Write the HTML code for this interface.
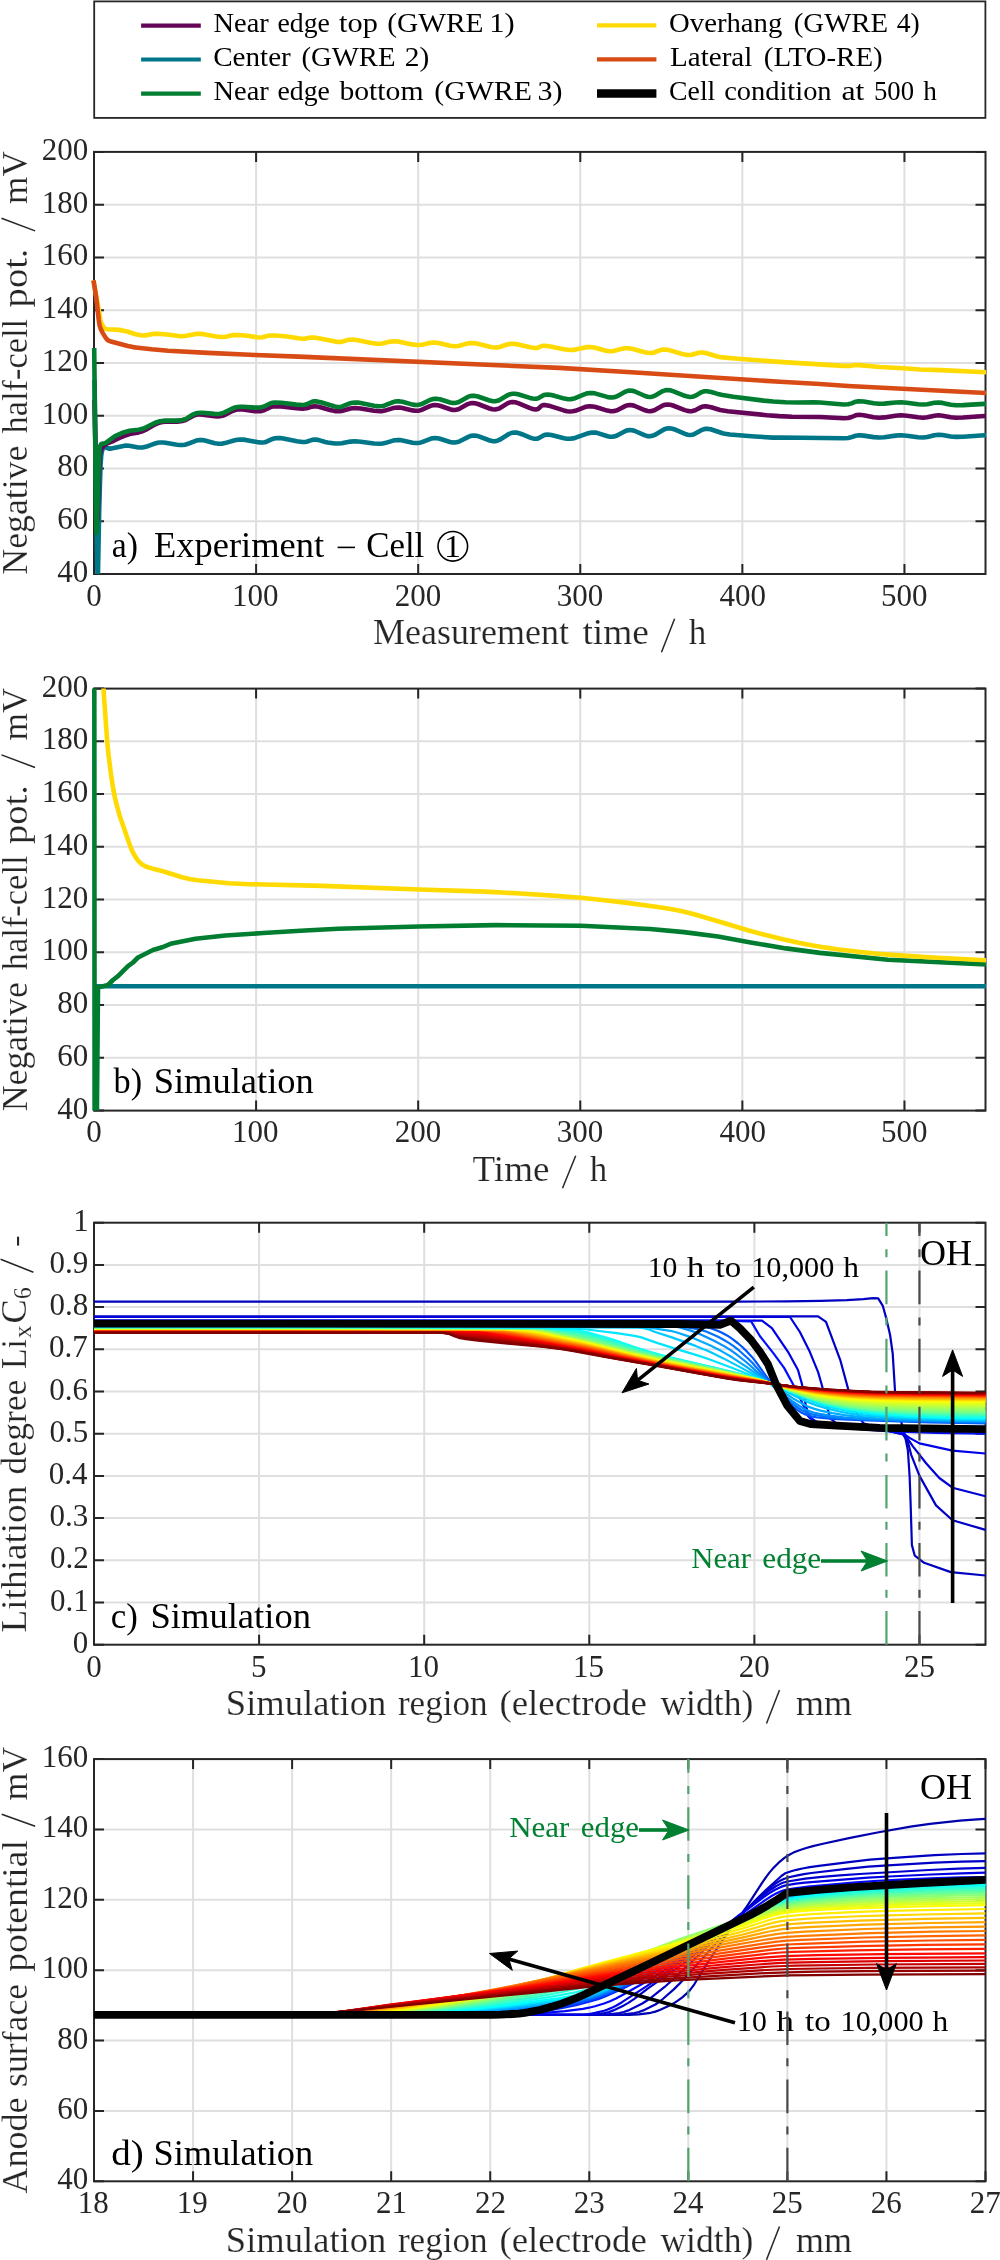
<!DOCTYPE html><html><head><meta charset="utf-8"><style>html,body{margin:0;padding:0;background:#fff;} svg{display:block;will-change:transform} text{font-family:"Liberation Serif",serif;} text[fill="#262626"]{stroke:#fff;stroke-width:0.2px;}</style></head><body>
<svg width="1000" height="2260" viewBox="0 0 1000 2260">
<rect width="1000" height="2260" fill="#fff"/>
<rect x="94.2" y="1.4" width="891.2" height="116.5" fill="#fff" stroke="#262626" stroke-width="1.8"/>
<line x1="141.1" y1="25.6" x2="200.8" y2="25.6" stroke="#650558" stroke-width="4.2"/>
<line x1="141.1" y1="59.5" x2="200.8" y2="59.5" stroke="#007789" stroke-width="4.2"/>
<line x1="141.1" y1="93.6" x2="200.8" y2="93.6" stroke="#007D30" stroke-width="4.2"/>
<line x1="597" y1="25.4" x2="656.4" y2="25.4" stroke="#FFDA00" stroke-width="4.2"/>
<line x1="597" y1="59.4" x2="656.4" y2="59.4" stroke="#D84B14" stroke-width="4.2"/>
<line x1="597" y1="93.4" x2="656.4" y2="93.4" stroke="#000" stroke-width="8.5"/>
<text transform="translate(213.52,32.20) scale(1.0783,1)" font-size="26.4" fill="#000" >Near</text>
<text transform="translate(277.49,32.20) scale(1.0518,1)" font-size="26.4" fill="#000" >edge</text>
<text transform="translate(339.10,32.20) scale(1.1479,1)" font-size="26.4" fill="#000" >top</text>
<text transform="translate(387.15,32.20) scale(1.1140,1)" font-size="26.4" fill="#000" >(GWRE</text>
<text transform="translate(489.32,32.20) scale(1.1593,1)" font-size="26.4" fill="#000" >1)</text>
<text transform="translate(213.13,66.10) scale(1.1042,1)" font-size="26.4" fill="#000" >Center</text>
<text transform="translate(301.38,66.10) scale(1.0879,1)" font-size="26.4" fill="#000" >(GWRE</text>
<text transform="translate(404.75,66.10) scale(1.1148,1)" font-size="26.4" fill="#000" >2)</text>
<text transform="translate(213.52,100.20) scale(1.0783,1)" font-size="26.4" fill="#000" >Near</text>
<text transform="translate(277.49,100.20) scale(1.0518,1)" font-size="26.4" fill="#000" >edge</text>
<text transform="translate(339.40,100.20) scale(1.1239,1)" font-size="26.4" fill="#000" >bottom</text>
<text transform="translate(434.33,100.20) scale(1.1283,1)" font-size="26.4" fill="#000" >(GWRE</text>
<text transform="translate(537.57,100.20) scale(1.1376,1)" font-size="26.4" fill="#000" >3)</text>
<text transform="translate(669.05,32.20) scale(1.0888,1)" font-size="26.4" fill="#000" >Overhang</text>
<text transform="translate(793.78,32.20) scale(1.0914,1)" font-size="26.4" fill="#000" >(GWRE</text>
<text transform="translate(896.65,32.20) scale(1.0478,1)" font-size="26.4" fill="#000" >4)</text>
<text transform="translate(670.00,66.10) scale(1.1027,1)" font-size="26.4" fill="#000" >Lateral</text>
<text transform="translate(763.77,66.10) scale(1.0964,1)" font-size="26.4" fill="#000" >(LTO-RE)</text>
<text transform="translate(669.09,100.20) scale(1.0502,1)" font-size="26.4" fill="#000" >Cell</text>
<text transform="translate(724.13,100.20) scale(1.0779,1)" font-size="26.4" fill="#000" >condition</text>
<text transform="translate(841.39,100.20) scale(1.2044,1)" font-size="26.4" fill="#000" >at</text>
<text transform="translate(873.97,100.20) scale(1.0110,1)" font-size="26.4" fill="#000" >500</text>
<text transform="translate(923.23,100.20) scale(1.0313,1)" font-size="26.4" fill="#000" >h</text>
<clipPath id="ca"><rect x="91.0" y="151.9" width="895.0" height="422.1"/></clipPath>
<line x1="256.09" y1="151.9" x2="256.09" y2="574.0" stroke="#DFDFDF" stroke-width="2"/>
<line x1="418.18" y1="151.9" x2="418.18" y2="574.0" stroke="#DFDFDF" stroke-width="2"/>
<line x1="580.27" y1="151.9" x2="580.27" y2="574.0" stroke="#DFDFDF" stroke-width="2"/>
<line x1="742.36" y1="151.9" x2="742.36" y2="574.0" stroke="#DFDFDF" stroke-width="2"/>
<line x1="904.45" y1="151.9" x2="904.45" y2="574.0" stroke="#DFDFDF" stroke-width="2"/>
<line x1="94.0" y1="521.24" x2="985.5" y2="521.24" stroke="#DFDFDF" stroke-width="2"/>
<line x1="94.0" y1="468.48" x2="985.5" y2="468.48" stroke="#DFDFDF" stroke-width="2"/>
<line x1="94.0" y1="415.71" x2="985.5" y2="415.71" stroke="#DFDFDF" stroke-width="2"/>
<line x1="94.0" y1="362.95" x2="985.5" y2="362.95" stroke="#DFDFDF" stroke-width="2"/>
<line x1="94.0" y1="310.19" x2="985.5" y2="310.19" stroke="#DFDFDF" stroke-width="2"/>
<line x1="94.0" y1="257.42" x2="985.5" y2="257.42" stroke="#DFDFDF" stroke-width="2"/>
<line x1="94.0" y1="204.66" x2="985.5" y2="204.66" stroke="#DFDFDF" stroke-width="2"/>
<path d="M94.00,574.0 v-10 M94.00,151.9 v10 M256.09,574.0 v-10 M256.09,151.9 v10 M418.18,574.0 v-10 M418.18,151.9 v10 M580.27,574.0 v-10 M580.27,151.9 v10 M742.36,574.0 v-10 M742.36,151.9 v10 M904.45,574.0 v-10 M904.45,151.9 v10 M94.0,574.00 h10 M985.5,574.00 h-10 M94.0,521.24 h10 M985.5,521.24 h-10 M94.0,468.48 h10 M985.5,468.48 h-10 M94.0,415.71 h10 M985.5,415.71 h-10 M94.0,362.95 h10 M985.5,362.95 h-10 M94.0,310.19 h10 M985.5,310.19 h-10 M94.0,257.42 h10 M985.5,257.42 h-10 M94.0,204.66 h10 M985.5,204.66 h-10 M94.0,151.90 h10 M985.5,151.90 h-10" stroke="#262626" stroke-width="2" fill="none"/>
<rect x="94.0" y="151.9" width="891.5" height="422.1" fill="none" stroke="#262626" stroke-width="2"/>
<g clip-path="url(#ca)">
<path d="M94.5,380.0 97.0,555.7 97.6,580.0 97.8,578.4 98.0,571.9 99.2,509.7 100.5,465.6 101.2,456.0 101.7,452.4 102.4,449.8 103.2,448.2 104.2,447.5 105.2,447.3 108.0,448.3 109.1,448.2 109.0,448.7 110.0,448.8 126.0,445.5 129.2,445.8 138.4,447.5 142.5,447.5 146.6,446.6 155.2,443.4 157.6,442.8 160.0,442.5 162.6,442.5 165.4,442.8 177.1,444.7 179.9,445.0 182.5,445.0 184.9,444.7 187.2,444.1 195.6,440.8 197.7,440.3 200.0,440.0 202.4,440.1 204.8,440.5 214.9,443.2 217.5,443.6 220.0,443.8 222.5,443.6 224.9,443.1 234.8,440.2 237.4,439.7 240.0,439.5 242.7,439.6 245.6,439.9 257.3,442.1 260.0,442.4 262.5,442.5 264.7,442.2 266.5,441.7 273.2,438.7 275.2,438.2 277.5,438.0 280.2,438.1 283.3,438.6 296.9,441.3 302.5,442.0 304.7,442.0 306.5,441.7 312.2,439.9 315.0,439.5 318.1,439.9 324.4,441.8 327.5,442.5 335.1,443.5 338.3,443.5 341.7,443.3 350.5,441.6 355.0,441.2 360.7,441.7 374.0,443.5 380.0,443.8 382.5,443.5 384.8,443.1 393.1,440.6 395.2,440.2 397.5,440.0 399.9,440.1 402.4,440.5 412.6,442.7 415.1,443.0 417.5,443.0 419.8,442.7 422.0,442.1 430.5,438.8 432.7,438.2 435.0,438.0 437.4,438.2 439.9,438.7 450.0,442.0 452.5,442.4 455.0,442.5 457.4,442.1 459.7,441.3 468.9,436.6 471.3,435.8 473.8,435.5 476.3,435.7 478.9,436.4 489.8,440.5 492.4,441.1 495.0,441.2 497.4,440.7 499.8,439.7 508.9,434.0 511.3,433.0 513.8,432.5 516.3,432.6 519.1,433.3 521.9,434.2 530.2,437.6 532.7,438.4 535.0,438.8 536.9,438.7 538.5,438.2 543.9,435.2 545.5,434.7 547.5,434.5 549.8,434.7 552.4,435.2 564.1,438.2 567.1,438.7 570.0,438.8 572.8,438.4 575.7,437.7 587.1,433.6 589.8,432.9 592.5,432.5 595.1,432.6 597.7,433.1 607.7,436.2 610.1,436.7 612.5,436.8 614.8,436.3 617.0,435.5 625.5,431.0 627.7,430.3 630.0,430.0 632.4,430.3 634.9,431.0 645.0,435.4 647.5,436.1 650.0,436.2 652.4,435.8 654.7,434.9 663.9,429.5 666.3,428.6 668.8,428.2 671.3,428.5 674.0,429.2 685.0,433.9 687.6,434.7 690.0,435.0 692.3,434.8 694.4,434.1 702.1,429.8 704.1,429.1 706.2,428.8 708.5,428.9 710.7,429.3 722.6,433.2 725.0,433.8 729.8,434.5 754.7,436.5 772.9,437.6 780.0,437.5 843.5,438.3 848.2,438.0 850.0,437.6 855.7,435.7 859.2,435.3 863.6,435.6 873.7,437.1 879.0,437.5 884.3,437.2 895.4,435.6 901.0,435.3 906.7,435.7 918.0,437.2 923.0,437.5 927.3,437.0 934.5,435.2 938.4,434.7 942.4,435.0 950.8,436.5 956.0,436.9 963.0,436.7 984.6,435.3 987.0,435.3" fill="none" stroke="#007789" stroke-width="4.6" stroke-linejoin="round" stroke-linecap="butt" />
<path d="M94.5,400.0 96.2,487.5 96.9,513.3 97.3,519.6 97.5,520.0 97.8,513.2 98.8,475.5 99.6,456.5 100.2,452.1 100.8,450.2 101.7,448.3 102.9,446.6 104.4,445.2 107.9,443.1 113.7,440.8 121.5,437.0 126.1,435.2 129.5,434.1 138.6,432.4 142.5,431.2 146.6,429.3 155.2,424.3 157.6,423.3 160.0,422.5 162.6,422.0 165.4,421.7 177.3,421.6 182.5,421.0 184.7,420.4 186.6,419.5 193.4,415.7 195.3,415.0 197.5,414.5 200.0,414.4 202.7,414.6 214.6,416.2 217.4,416.4 220.0,416.2 222.4,415.8 224.6,415.0 232.9,410.8 235.1,410.0 237.5,409.5 240.1,409.4 242.9,409.5 254.8,411.1 257.5,411.3 260.0,411.2 262.1,410.9 264.0,410.3 270.5,407.1 272.6,406.6 275.0,406.2 281.3,406.5 296.4,408.3 302.5,408.8 306.6,408.3 312.1,406.6 315.0,406.2 318.7,406.8 330.0,410.0 335.0,411.1 337.3,411.3 340.0,411.2 341.6,411.0 350.4,408.5 355.0,408.0 360.7,408.5 374.0,410.8 380.0,411.2 382.5,411.1 384.8,410.6 393.1,408.1 395.2,407.7 397.5,407.5 399.9,407.6 402.4,408.0 412.6,410.4 415.1,410.7 417.5,410.8 419.8,410.4 422.0,409.7 430.5,405.9 432.7,405.3 435.0,405.0 437.4,405.2 439.9,405.8 450.1,409.3 452.6,409.9 455.0,410.0 457.3,409.6 459.4,408.8 467.8,404.1 470.1,403.3 472.5,403.0 475.1,403.3 477.9,404.0 489.6,408.5 492.4,409.3 495.0,409.5 497.4,409.1 499.6,408.3 507.9,403.1 510.1,402.3 512.5,402.0 515.2,402.3 518.1,403.1 530.1,408.1 532.8,409.0 535.0,409.5 536.7,409.4 538.0,409.0 541.7,405.6 543.1,405.1 545.0,405.0 547.4,405.4 550.3,406.1 563.8,410.4 567.0,411.2 570.0,411.5 572.7,411.3 575.3,410.8 584.9,407.1 587.4,406.5 590.0,406.2 592.7,406.5 595.6,407.0 607.2,410.6 609.9,411.1 612.5,411.2 614.9,410.9 617.2,410.2 625.6,405.9 627.7,405.3 630.0,405.0 632.4,405.3 634.9,406.0 645.1,410.3 647.6,411.0 650.0,411.2 652.3,410.9 654.4,410.2 662.8,405.5 665.1,404.8 667.5,404.5 670.1,404.8 672.9,405.5 684.8,410.1 687.5,410.9 690.0,411.2 692.2,411.1 694.2,410.6 696.1,409.8 701.2,407.1 703.1,406.5 705.0,406.2 707.0,406.4 711.2,407.2 720.1,410.0 727.7,411.2 766.9,415.2 779.4,416.1 791.9,416.7 820.0,417.0 843.4,418.3 848.2,418.0 851.6,417.0 855.7,415.3 857.3,415.0 859.2,414.8 863.6,415.2 873.7,417.2 879.0,417.7 884.3,417.4 895.4,415.7 901.0,415.3 906.7,415.7 918.0,417.3 923.0,417.7 927.3,417.3 934.5,415.7 938.4,415.3 942.4,415.7 950.8,417.3 956.0,417.7 963.0,417.5 984.6,416.0 987.5,415.9 987.0,416.0" fill="none" stroke="#650558" stroke-width="4.6" stroke-linejoin="round" stroke-linecap="butt" />
<path d="M94.2,348.0 95.9,505.9 96.2,525.5 96.5,533.0 96.8,528.6 98.5,470.1 99.2,453.7 99.4,449.8 99.9,446.9 100.8,444.6 101.3,444.0 101.9,443.7 104.9,443.2 105.8,442.8 114.0,436.8 116.8,435.3 121.3,433.3 126.1,431.7 129.5,430.8 138.6,429.7 142.5,428.8 146.6,427.1 155.2,422.8 160.0,421.2 165.4,420.6 177.3,420.6 182.5,420.0 184.7,419.3 186.6,418.5 193.4,414.3 195.3,413.5 197.5,413.0 200.0,412.8 202.7,412.8 214.6,413.9 217.4,414.0 220.0,413.8 222.4,413.2 224.6,412.4 232.9,408.4 235.1,407.5 237.5,407.0 240.1,406.8 242.9,406.7 254.8,407.6 260.0,407.5 262.1,407.1 264.0,406.5 270.5,403.4 272.6,402.8 275.0,402.5 281.3,402.7 296.4,404.6 302.5,405.0 304.8,404.8 306.6,404.3 312.1,401.8 313.4,401.4 315.0,401.2 316.8,401.4 320.7,402.2 335.0,406.5 337.3,407.0 338.5,407.1 341.6,406.7 350.4,403.2 352.6,402.7 355.0,402.5 357.7,402.6 360.7,403.1 374.0,405.7 377.2,406.1 380.0,406.2 382.5,406.0 384.8,405.4 393.1,402.1 395.2,401.5 397.5,401.2 399.9,401.4 402.4,401.8 412.6,404.6 415.1,404.9 417.5,405.0 419.8,404.6 422.0,403.9 430.5,399.8 432.7,399.1 435.0,398.8 437.4,398.9 439.9,399.3 450.1,402.5 452.6,402.9 455.0,403.0 457.3,402.6 459.4,401.7 467.8,396.9 470.1,396.1 472.5,395.8 475.1,395.9 477.9,396.5 489.6,400.5 492.4,401.1 495.0,401.2 497.4,400.8 499.6,400.0 507.9,395.1 510.1,394.2 512.5,393.8 515.1,393.8 518.0,394.3 530.0,397.9 532.6,398.5 535.0,398.8 537.0,398.6 538.6,398.1 543.9,395.1 545.5,394.7 547.5,394.5 549.9,394.7 552.5,395.3 564.3,398.6 567.2,399.1 570.0,399.2 572.6,398.9 575.1,398.2 584.9,394.1 587.4,393.3 590.0,393.0 592.7,393.1 595.6,393.6 607.2,396.9 609.9,397.4 612.5,397.5 614.9,397.1 617.2,396.2 625.6,391.6 627.7,390.8 630.0,390.5 632.4,390.8 634.9,391.5 645.1,396.0 647.6,396.7 650.0,397.0 652.3,396.7 654.4,395.9 662.8,391.1 665.1,390.3 667.5,390.0 670.1,390.3 672.9,391.1 684.8,395.8 687.5,396.6 690.0,397.0 692.2,396.8 694.2,396.2 696.1,395.4 701.2,392.3 703.1,391.6 705.0,391.2 707.0,391.3 711.2,392.0 717.7,393.9 722.5,395.0 733.3,396.7 763.7,400.6 773.1,401.5 785.6,402.2 798.1,402.5 813.7,402.4 820.0,402.5 843.4,404.5 848.2,404.3 851.6,403.4 855.7,401.7 857.3,401.4 859.2,401.2 863.6,401.5 873.7,403.3 879.0,403.8 884.3,403.6 895.4,402.5 901.0,402.3 906.7,402.7 918.0,404.2 923.0,404.5 927.3,404.2 934.5,402.8 938.4,402.5 942.4,402.9 950.8,404.7 956.0,405.2 963.0,405.1 984.6,403.9 987.0,403.9" fill="none" stroke="#007D30" stroke-width="4.6" stroke-linejoin="round" stroke-linecap="butt" />
<path d="M93.5,280.3 100.5,320.0 101.0,322.0 101.9,324.4 104.3,328.0 105.4,328.8 107.0,329.3 118.8,329.9 122.2,330.4 128.3,331.8 129.3,332.3 135.6,334.2 140.9,335.3 144.1,335.5 147.2,335.1 153.4,333.9 158.1,333.7 169.3,334.7 178.7,336.1 182.5,336.2 186.3,335.8 195.7,333.9 199.2,333.8 202.4,334.1 216.2,336.5 220.9,337.0 225.6,336.7 233.4,335.1 238.1,335.0 247.5,335.8 257.1,337.3 260.0,337.5 262.6,337.2 268.5,335.6 271.6,335.5 275.1,335.5 285.0,336.2 298.6,338.3 302.5,338.8 305.4,338.6 311.1,337.5 314.2,337.6 319.8,338.5 335.4,341.6 338.5,342.0 341.5,341.9 348.5,339.8 352.5,339.5 358.0,340.2 371.5,343.0 377.5,343.8 380.0,343.7 382.3,343.5 390.4,341.6 395.0,341.2 400.4,341.9 412.1,344.4 417.5,345.0 422.2,344.7 430.6,342.8 435.0,342.5 439.9,343.2 450.1,345.7 455.0,346.2 457.3,346.1 459.4,345.7 467.8,343.4 470.1,343.1 472.5,343.0 475.1,343.2 477.9,343.8 489.6,346.8 492.4,347.3 495.0,347.5 497.4,347.4 499.6,347.0 507.9,344.3 510.1,343.9 512.5,343.8 518.1,344.4 530.1,347.2 535.0,348.0 536.7,348.0 538.0,347.7 541.7,346.0 543.1,345.8 545.0,345.8 550.3,346.5 563.8,349.3 570.0,350.0 572.7,349.9 575.4,349.6 585.1,347.4 587.5,347.1 590.0,347.0 592.5,347.2 595.1,347.7 605.2,350.5 607.6,351.0 610.0,351.2 612.3,351.2 614.4,350.8 622.8,348.6 625.1,348.3 627.5,348.2 630.1,348.5 632.9,349.1 644.8,352.2 647.5,352.7 650.0,353.0 652.2,352.9 654.1,352.5 660.9,349.9 662.8,349.6 665.0,349.5 667.5,349.8 670.3,350.4 682.2,354.0 687.5,355.0 689.7,355.0 691.7,354.8 698.8,352.8 700.6,352.5 702.5,352.5 706.5,353.2 717.4,356.5 722.8,357.4 732.0,358.3 779.4,361.9 843.5,365.9 849.5,365.9 855.2,365.0 859.3,365.1 880.0,367.0 903.0,368.2 920.0,369.5 940.9,370.1 987.0,372.3" fill="none" stroke="#FFDA00" stroke-width="4.6" stroke-linejoin="round" stroke-linecap="butt" />
<path d="M93.5,280.3 96.2,297.4 98.7,319.6 99.6,325.3 100.5,328.3 102.2,332.1 105.9,338.1 107.5,340.0 108.7,340.7 110.9,341.5 127.8,346.0 133.1,347.1 137.9,347.7 151.7,349.3 168.1,350.7 207.7,352.9 255.0,355.0 298.5,356.6 559.2,367.9 631.2,372.2 780.0,381.8 820.0,384.0 848.1,386.0 987.0,393.0" fill="none" stroke="#D84B14" stroke-width="4.6" stroke-linejoin="round" stroke-linecap="butt" />
</g>
<text transform="translate(86.25,605.80) scale(1.0000,1)" font-size="31" fill="#262627" >0</text>
<text transform="translate(232.07,605.80) scale(1.0000,1)" font-size="31" fill="#262627" >100</text>
<text transform="translate(394.85,605.80) scale(1.0000,1)" font-size="31" fill="#262627" >200</text>
<text transform="translate(556.87,605.80) scale(1.0000,1)" font-size="31" fill="#262627" >300</text>
<text transform="translate(719.38,605.80) scale(1.0000,1)" font-size="31" fill="#262627" >400</text>
<text transform="translate(880.89,605.80) scale(1.0000,1)" font-size="31" fill="#262627" >500</text>
<text transform="translate(57.16,582.00) scale(1.0000,1)" font-size="31" fill="#262627" >40</text>
<text transform="translate(57.16,529.24) scale(1.0000,1)" font-size="31" fill="#262627" >60</text>
<text transform="translate(57.16,476.48) scale(1.0000,1)" font-size="31" fill="#262627" >80</text>
<text transform="translate(41.66,423.71) scale(1.0000,1)" font-size="31" fill="#262627" >100</text>
<text transform="translate(41.66,370.95) scale(1.0000,1)" font-size="31" fill="#262627" >120</text>
<text transform="translate(41.66,318.19) scale(1.0000,1)" font-size="31" fill="#262627" >140</text>
<text transform="translate(41.66,265.42) scale(1.0000,1)" font-size="31" fill="#262627" >160</text>
<text transform="translate(41.66,212.66) scale(1.0000,1)" font-size="31" fill="#262627" >180</text>
<text transform="translate(41.66,159.90) scale(1.0000,1)" font-size="31" fill="#262627" >200</text>
<text transform="translate(373.01,644.20) scale(1.0058,1)" font-size="35.8" fill="#262626" >Measurement</text>
<text transform="translate(582.43,644.20) scale(1.0448,1)" font-size="35.8" fill="#262626" >time</text>
<text transform="translate(688.65,644.20) scale(0.9828,1)" font-size="35.8" fill="#262626" >h</text>
<line x1="661.5" y1="652.2" x2="674.6" y2="618.8" stroke="#262626" stroke-width="1.5"/>
<text transform="translate(27.20,574.68) rotate(-90) scale(0.9992,1)" font-size="35.8" fill="#262626">Negative</text>
<text transform="translate(27.20,433.54) rotate(-90) scale(0.9616,1)" font-size="35.8" fill="#262626">half-cell</text>
<text transform="translate(27.20,307.38) rotate(-90) scale(1.0768,1)" font-size="35.8" fill="#262626">pot.</text>
<text transform="translate(27.20,204.01) rotate(-90) scale(0.9860,1)" font-size="35.8" fill="#262626">mV</text>
<line x1="1.5" y1="218.3" x2="35.1" y2="230.9" stroke="#262626" stroke-width="1.5"/>
<text transform="translate(111.82,557.00) scale(0.9417,1)" font-size="35.8" fill="#000" >a)</text>
<text transform="translate(154.00,557.00) scale(1.0190,1)" font-size="35.8" fill="#000" >Experiment</text>
<line x1="337.6" y1="547.4" x2="355" y2="547.4" stroke="#000" stroke-width="1.6"/>
<text transform="translate(366.20,557.00) scale(0.9746,1)" font-size="35.8" fill="#000" >Cell</text>
<circle cx="452.8" cy="546.3" r="14.8" fill="none" stroke="#000" stroke-width="1.6"/>
<text transform="translate(444.02,557.00) scale(1.0981,1)" font-size="31" fill="#000" >1</text>
<clipPath id="cb"><rect x="91.0" y="688.6" width="895.0" height="421.9999999999999"/></clipPath>
<line x1="256.09" y1="688.6" x2="256.09" y2="1110.6" stroke="#DFDFDF" stroke-width="2"/>
<line x1="418.18" y1="688.6" x2="418.18" y2="1110.6" stroke="#DFDFDF" stroke-width="2"/>
<line x1="580.27" y1="688.6" x2="580.27" y2="1110.6" stroke="#DFDFDF" stroke-width="2"/>
<line x1="742.36" y1="688.6" x2="742.36" y2="1110.6" stroke="#DFDFDF" stroke-width="2"/>
<line x1="904.45" y1="688.6" x2="904.45" y2="1110.6" stroke="#DFDFDF" stroke-width="2"/>
<line x1="94.0" y1="1057.85" x2="985.5" y2="1057.85" stroke="#DFDFDF" stroke-width="2"/>
<line x1="94.0" y1="1005.10" x2="985.5" y2="1005.10" stroke="#DFDFDF" stroke-width="2"/>
<line x1="94.0" y1="952.35" x2="985.5" y2="952.35" stroke="#DFDFDF" stroke-width="2"/>
<line x1="94.0" y1="899.60" x2="985.5" y2="899.60" stroke="#DFDFDF" stroke-width="2"/>
<line x1="94.0" y1="846.85" x2="985.5" y2="846.85" stroke="#DFDFDF" stroke-width="2"/>
<line x1="94.0" y1="794.10" x2="985.5" y2="794.10" stroke="#DFDFDF" stroke-width="2"/>
<line x1="94.0" y1="741.35" x2="985.5" y2="741.35" stroke="#DFDFDF" stroke-width="2"/>
<path d="M94.00,1110.6 v-10 M94.00,688.6 v10 M256.09,1110.6 v-10 M256.09,688.6 v10 M418.18,1110.6 v-10 M418.18,688.6 v10 M580.27,1110.6 v-10 M580.27,688.6 v10 M742.36,1110.6 v-10 M742.36,688.6 v10 M904.45,1110.6 v-10 M904.45,688.6 v10 M94.0,1110.60 h10 M985.5,1110.60 h-10 M94.0,1057.85 h10 M985.5,1057.85 h-10 M94.0,1005.10 h10 M985.5,1005.10 h-10 M94.0,952.35 h10 M985.5,952.35 h-10 M94.0,899.60 h10 M985.5,899.60 h-10 M94.0,846.85 h10 M985.5,846.85 h-10 M94.0,794.10 h10 M985.5,794.10 h-10 M94.0,741.35 h10 M985.5,741.35 h-10 M94.0,688.60 h10 M985.5,688.60 h-10" stroke="#262626" stroke-width="2" fill="none"/>
<rect x="94.0" y="688.6" width="891.5" height="421.9999999999999" fill="none" stroke="#262626" stroke-width="2"/>
<g clip-path="url(#cb)">
<path d="M94.0,986.3 988.0,986.3" fill="none" stroke="#007789" stroke-width="4.6" stroke-linejoin="round" stroke-linecap="butt" />
<path d="M94.3,650.0 94.6,1125.0 96.8,1125.0 98.0,987.5 108.0,985.0 113.0,980.0 118.0,976.2 128.0,966.2 133.0,962.5 138.0,957.5 153.0,950.0 163.0,947.0 170.5,943.8 195.5,938.8 225.5,935.5 263.0,933.0 300.5,930.8 338.0,928.8 419.1,926.5 495.0,925.1 580.8,925.8 650.0,929.0 684.0,932.1 718.0,936.5 752.0,942.7 786.0,948.4 820.0,952.9 888.0,959.7 988.0,964.5" fill="none" stroke="#007D30" stroke-width="4.6" stroke-linejoin="round" stroke-linecap="butt" />
<path d="M102.8,660.0 103.2,680.9 103.7,692.3 107.2,741.4 108.5,754.6 111.0,774.3 113.0,787.5 114.8,797.0 116.6,804.7 119.7,815.7 129.1,843.1 131.9,850.4 135.1,856.3 137.2,859.6 138.4,861.1 141.3,863.8 143.0,865.0 145.0,866.1 147.2,867.0 152.1,868.4 163.0,871.2 182.0,877.2 190.7,879.3 197.7,880.3 228.9,883.2 249.3,884.2 322.6,885.9 419.1,889.5 485.1,891.6 516.1,893.3 549.4,895.4 580.8,897.8 600.1,899.7 627.4,902.9 655.9,906.7 669.2,908.7 680.0,910.8 688.2,912.7 696.8,915.0 722.2,922.5 747.8,930.2 764.8,934.8 781.8,938.9 798.8,942.7 811.5,945.2 824.2,947.4 837.0,949.2 858.2,951.7 875.2,953.5 892.1,954.9 928.9,957.3 988.0,960.4" fill="none" stroke="#FFDA00" stroke-width="4.6" stroke-linejoin="round" stroke-linecap="butt" />
</g>
<text transform="translate(86.25,1142.40) scale(1.0000,1)" font-size="31" fill="#262627" >0</text>
<text transform="translate(232.07,1142.40) scale(1.0000,1)" font-size="31" fill="#262627" >100</text>
<text transform="translate(394.85,1142.40) scale(1.0000,1)" font-size="31" fill="#262627" >200</text>
<text transform="translate(556.87,1142.40) scale(1.0000,1)" font-size="31" fill="#262627" >300</text>
<text transform="translate(719.38,1142.40) scale(1.0000,1)" font-size="31" fill="#262627" >400</text>
<text transform="translate(880.89,1142.40) scale(1.0000,1)" font-size="31" fill="#262627" >500</text>
<text transform="translate(57.16,1118.60) scale(1.0000,1)" font-size="31" fill="#262627" >40</text>
<text transform="translate(57.16,1065.85) scale(1.0000,1)" font-size="31" fill="#262627" >60</text>
<text transform="translate(57.16,1013.10) scale(1.0000,1)" font-size="31" fill="#262627" >80</text>
<text transform="translate(41.66,960.35) scale(1.0000,1)" font-size="31" fill="#262627" >100</text>
<text transform="translate(41.66,907.60) scale(1.0000,1)" font-size="31" fill="#262627" >120</text>
<text transform="translate(41.66,854.85) scale(1.0000,1)" font-size="31" fill="#262627" >140</text>
<text transform="translate(41.66,802.10) scale(1.0000,1)" font-size="31" fill="#262627" >160</text>
<text transform="translate(41.66,749.35) scale(1.0000,1)" font-size="31" fill="#262627" >180</text>
<text transform="translate(41.66,696.60) scale(1.0000,1)" font-size="31" fill="#262627" >200</text>
<text transform="translate(472.55,1180.80) scale(1.0346,1)" font-size="35.8" fill="#262626" >Time</text>
<text transform="translate(589.65,1180.80) scale(0.9769,1)" font-size="35.8" fill="#262626" >h</text>
<line x1="562.5" y1="1188.2" x2="575.7" y2="1155.7" stroke="#262626" stroke-width="1.5"/>
<text transform="translate(27.20,1111.28) rotate(-90) scale(0.9992,1)" font-size="35.8" fill="#262626">Negative</text>
<text transform="translate(27.20,970.14) rotate(-90) scale(0.9616,1)" font-size="35.8" fill="#262626">half-cell</text>
<text transform="translate(27.20,843.98) rotate(-90) scale(1.0768,1)" font-size="35.8" fill="#262626">pot.</text>
<text transform="translate(27.20,740.61) rotate(-90) scale(0.9860,1)" font-size="35.8" fill="#262626">mV</text>
<line x1="1.5" y1="754.9000000000001" x2="35.1" y2="767.5" stroke="#262626" stroke-width="1.5"/>
<text transform="translate(113.60,1092.90) scale(0.9582,1)" font-size="35.8" fill="#000" >b)</text>
<text transform="translate(153.64,1092.90) scale(1.0200,1)" font-size="35.8" fill="#000" >Simulation</text>
<clipPath id="cc"><rect x="91.0" y="1222.7" width="895.0" height="422.0"/></clipPath>
<line x1="259.09" y1="1222.7" x2="259.09" y2="1644.7" stroke="#DFDFDF" stroke-width="2"/>
<line x1="424.19" y1="1222.7" x2="424.19" y2="1644.7" stroke="#DFDFDF" stroke-width="2"/>
<line x1="589.28" y1="1222.7" x2="589.28" y2="1644.7" stroke="#DFDFDF" stroke-width="2"/>
<line x1="754.37" y1="1222.7" x2="754.37" y2="1644.7" stroke="#DFDFDF" stroke-width="2"/>
<line x1="919.46" y1="1222.7" x2="919.46" y2="1644.7" stroke="#DFDFDF" stroke-width="2"/>
<line x1="94.0" y1="1602.50" x2="985.5" y2="1602.50" stroke="#DFDFDF" stroke-width="2"/>
<line x1="94.0" y1="1560.30" x2="985.5" y2="1560.30" stroke="#DFDFDF" stroke-width="2"/>
<line x1="94.0" y1="1518.10" x2="985.5" y2="1518.10" stroke="#DFDFDF" stroke-width="2"/>
<line x1="94.0" y1="1475.90" x2="985.5" y2="1475.90" stroke="#DFDFDF" stroke-width="2"/>
<line x1="94.0" y1="1433.70" x2="985.5" y2="1433.70" stroke="#DFDFDF" stroke-width="2"/>
<line x1="94.0" y1="1391.50" x2="985.5" y2="1391.50" stroke="#DFDFDF" stroke-width="2"/>
<line x1="94.0" y1="1349.30" x2="985.5" y2="1349.30" stroke="#DFDFDF" stroke-width="2"/>
<line x1="94.0" y1="1307.10" x2="985.5" y2="1307.10" stroke="#DFDFDF" stroke-width="2"/>
<line x1="94.0" y1="1264.90" x2="985.5" y2="1264.90" stroke="#DFDFDF" stroke-width="2"/>
<path d="M94.00,1644.7 v-10 M94.00,1222.7 v10 M259.09,1644.7 v-10 M259.09,1222.7 v10 M424.19,1644.7 v-10 M424.19,1222.7 v10 M589.28,1644.7 v-10 M589.28,1222.7 v10 M754.37,1644.7 v-10 M754.37,1222.7 v10 M919.46,1644.7 v-10 M919.46,1222.7 v10 M94.0,1644.70 h10 M985.5,1644.70 h-10 M94.0,1602.50 h10 M985.5,1602.50 h-10 M94.0,1560.30 h10 M985.5,1560.30 h-10 M94.0,1518.10 h10 M985.5,1518.10 h-10 M94.0,1475.90 h10 M985.5,1475.90 h-10 M94.0,1433.70 h10 M985.5,1433.70 h-10 M94.0,1391.50 h10 M985.5,1391.50 h-10 M94.0,1349.30 h10 M985.5,1349.30 h-10 M94.0,1307.10 h10 M985.5,1307.10 h-10 M94.0,1264.90 h10 M985.5,1264.90 h-10 M94.0,1222.70 h10 M985.5,1222.70 h-10" stroke="#262626" stroke-width="2" fill="none"/>
<rect x="94.0" y="1222.7" width="891.5" height="422.0" fill="none" stroke="#262626" stroke-width="2"/>
<g clip-path="url(#cc)">
<path d="M94.0,1301.6 737.9,1301.6 787.4,1301.4 820.4,1300.8 846.8,1300.1 863.3,1299.1 873.2,1298.2 878.2,1298.4 882.8,1305.8 886.4,1318.9 890.1,1335.0 892.7,1353.5 895.0,1390.7 899.7,1416.8 904.6,1433.7 907.9,1450.6 909.6,1475.9 910.5,1500.0 911.9,1545.1 914.8,1555.7 924.1,1562.8 950.8,1572.1 985.5,1575.5" fill="none" stroke="#0000C0" stroke-width="2.2" stroke-linejoin="round" stroke-linecap="butt" />
<path d="M94.0,1316.4 818.1,1316.4 826.0,1321.9 840.2,1359.8 853.4,1408.4 863.3,1423.2 886.4,1430.3 903.0,1434.5 907.9,1442.1 911.2,1454.8 919.5,1475.9 936.0,1505.4 952.5,1520.2 985.5,1529.9" fill="none" stroke="#0000C8" stroke-width="2.2" stroke-linejoin="round" stroke-linecap="butt" />
<path d="M94.0,1317.0 790.0,1317.0 799.9,1332.0 809.8,1351.8 818.1,1372.1 822.1,1386.0 830.0,1418.1 840.2,1426.5 886.4,1430.7 903.0,1434.1 907.9,1439.2 912.9,1446.4 926.1,1463.2 939.3,1478.0 952.5,1487.7 985.5,1496.2" fill="none" stroke="#0000D8" stroke-width="2.2" stroke-linejoin="round" stroke-linecap="butt" />
<path d="M94.0,1320.6 762.0,1320.6 771.9,1328.2 788.0,1351.8 798.0,1370.0 801.9,1383.9 805.9,1405.8 809.8,1418.1 820.4,1424.4 886.4,1430.3 903.0,1433.3 909.6,1437.9 919.5,1443.4 952.5,1450.6 985.5,1453.5" fill="none" stroke="#0000E8" stroke-width="2.2" stroke-linejoin="round" stroke-linecap="butt" />
<path d="M94.0,1320.6 721.4,1320.6 751.1,1321.4 760.0,1336.2 773.9,1353.9 784.1,1367.9 794.0,1386.0 801.9,1402.1 807.9,1416.0 820.4,1424.4 853.4,1428.6 886.4,1431.2 936.0,1432.9 985.5,1433.7" fill="none" stroke="#0010FF" stroke-width="2.2" stroke-linejoin="round" stroke-linecap="butt" />
<path d="M94.0,1325.4 424.2,1325.4 673.4,1325.7 685.9,1325.9 704.4,1326.8 710.5,1328.1 716.3,1330.3 722.0,1332.7 727.5,1335.7 732.6,1339.2 737.6,1343.0 742.3,1347.0 746.8,1351.4 751.0,1355.9 755.0,1360.6 773.2,1385.8 777.0,1390.6 781.1,1395.3 785.4,1399.8 790.0,1404.1 794.8,1408.0 799.8,1411.7 805.4,1414.4 811.3,1416.3 817.4,1417.5 829.8,1418.6 842.3,1419.4 860.9,1420.2 929.4,1422.3 960.6,1423.0 985.5,1423.3" fill="none" stroke="#0057FF" stroke-width="2.2" stroke-linejoin="round" stroke-linecap="butt" />
<path d="M94.0,1325.7 627.1,1326.0 676.6,1326.1 682.8,1326.7 694.9,1328.7 700.9,1329.9 706.7,1331.8 718.1,1336.7 723.5,1339.7 728.8,1342.9 733.9,1346.4 738.8,1350.2 748.0,1358.5 752.3,1362.8 764.5,1376.7 772.8,1385.7 786.1,1398.5 790.9,1402.5 800.9,1409.7 806.5,1412.5 812.3,1414.4 818.4,1415.7 830.7,1417.3 843.0,1418.4 861.6,1419.5 929.7,1421.7 985.5,1422.7" fill="none" stroke="#0073FF" stroke-width="2.2" stroke-linejoin="round" stroke-linecap="butt" />
<path d="M94.0,1326.0 445.5,1326.1 673.6,1326.5 679.7,1327.5 691.5,1330.9 697.3,1333.0 702.9,1335.5 714.1,1340.8 724.9,1346.6 730.2,1349.9 735.2,1353.4 744.9,1361.0 749.6,1365.0 763.1,1377.6 767.8,1381.6 786.9,1397.2 791.8,1400.9 802.1,1407.7 807.5,1410.5 813.4,1412.5 819.4,1413.9 831.5,1415.9 843.8,1417.4 862.2,1418.8 880.7,1419.6 905.4,1420.4 948.5,1421.4 985.5,1422.0" fill="none" stroke="#0090FF" stroke-width="2.2" stroke-linejoin="round" stroke-linecap="butt" />
<path d="M94.0,1326.6 492.9,1326.8 640.2,1327.0 646.4,1327.2 670.2,1330.8 676.2,1332.2 687.8,1336.1 693.6,1338.2 710.5,1345.5 721.4,1351.1 732.0,1357.3 747.2,1367.4 762.0,1378.1 767.1,1381.5 792.6,1398.2 803.3,1404.2 808.8,1406.9 814.6,1408.9 820.5,1410.6 832.5,1413.2 844.5,1415.2 856.7,1416.6 875.1,1418.0 893.5,1418.9 918.0,1419.7 954.8,1420.6 985.5,1421.0" fill="none" stroke="#00ACFF" stroke-width="2.2" stroke-linejoin="round" stroke-linecap="butt" />
<path d="M94.0,1327.2 564.4,1327.5 637.7,1327.6 643.8,1328.1 649.6,1329.8 655.2,1332.0 672.6,1337.6 695.6,1345.9 706.9,1350.4 712.4,1353.0 723.4,1358.4 739.6,1366.9 766.3,1381.4 798.9,1398.0 810.1,1402.9 815.8,1405.1 827.5,1408.6 839.3,1411.5 851.3,1413.8 863.5,1415.3 881.7,1416.9 900.0,1417.9 924.4,1418.9 961.1,1419.8 985.5,1420.1" fill="none" stroke="#00C9FF" stroke-width="2.2" stroke-linejoin="round" stroke-linecap="butt" />
<path d="M94.0,1328.1 313.1,1328.2 483.4,1328.5 574.7,1328.8 580.8,1329.0 586.8,1329.5 616.7,1333.2 634.5,1335.9 640.5,1337.1 657.7,1343.1 675.0,1348.6 698.3,1355.6 709.8,1359.5 732.4,1368.0 755.0,1376.9 766.2,1381.6 799.6,1396.2 816.6,1403.0 822.3,1404.9 828.2,1406.6 840.0,1409.5 851.9,1411.9 864.0,1413.5 876.1,1414.8 894.3,1416.2 912.5,1417.3 930.7,1418.0 961.2,1418.8 985.5,1419.0" fill="none" stroke="#00E5FF" stroke-width="2.2" stroke-linejoin="round" stroke-linecap="butt" />
<path d="M94.0,1329.0 275.9,1329.1 415.4,1329.5 567.1,1330.3 573.1,1330.3 579.2,1330.8 585.1,1331.8 591.0,1333.3 608.5,1338.3 614.3,1340.1 631.5,1346.1 648.8,1351.6 660.5,1354.9 672.3,1357.8 725.4,1370.2 737.2,1373.2 748.9,1376.4 760.5,1379.9 766.2,1381.9 817.1,1401.8 822.8,1403.6 828.7,1405.2 846.4,1409.2 858.4,1411.2 876.5,1413.4 894.6,1414.9 912.8,1416.2 937.0,1417.3 967.3,1417.9 985.5,1418.1" fill="none" stroke="#00FFFF" stroke-width="2.2" stroke-linejoin="round" stroke-linecap="butt" />
<path d="M94.0,1329.2 324.4,1329.3 500.2,1329.9 542.6,1330.2 572.9,1331.2 578.9,1331.7 584.9,1332.8 590.8,1334.3 608.3,1339.1 631.3,1346.8 648.7,1352.0 660.4,1355.3 672.1,1358.2 725.3,1370.4 748.8,1376.5 760.4,1379.9 766.1,1381.9 817.1,1401.5 822.8,1403.3 828.7,1404.8 846.5,1408.7 858.4,1410.7 870.5,1412.1 882.5,1413.3 906.7,1415.1 924.9,1416.1 937.0,1416.5 967.3,1417.1 985.5,1417.2" fill="none" stroke="#10FFEF" stroke-width="2.2" stroke-linejoin="round" stroke-linecap="butt" />
<path d="M94.0,1329.3 336.4,1329.5 524.3,1330.2 542.5,1330.3 572.6,1332.0 578.6,1332.7 584.6,1333.8 590.5,1335.2 608.0,1340.0 631.1,1347.4 642.7,1350.8 660.2,1355.6 672.0,1358.5 725.2,1370.6 748.7,1376.5 760.3,1379.9 766.1,1381.8 817.1,1401.2 822.8,1402.9 828.7,1404.4 840.6,1407.0 852.5,1409.3 864.5,1410.9 882.6,1412.7 900.7,1414.0 918.9,1415.0 931.0,1415.5 961.3,1416.1 985.5,1416.4" fill="none" stroke="#21FFDE" stroke-width="2.2" stroke-linejoin="round" stroke-linecap="butt" />
<path d="M94.0,1329.4 342.4,1329.6 536.3,1330.3 542.3,1330.4 548.4,1330.7 572.4,1332.8 578.4,1333.6 584.3,1334.8 590.2,1336.2 607.7,1340.9 636.7,1349.7 660.1,1356.0 725.1,1370.8 742.7,1375.1 754.4,1378.2 760.2,1379.9 771.7,1383.8 800.0,1394.6 817.0,1400.9 822.9,1402.6 828.7,1404.0 840.6,1406.6 852.5,1408.7 864.5,1410.3 882.6,1412.1 900.7,1413.3 931.0,1414.7 961.3,1415.3 985.5,1415.5" fill="none" stroke="#31FFCE" stroke-width="2.2" stroke-linejoin="round" stroke-linecap="butt" />
<path d="M94.0,1329.5 275.7,1329.6 415.0,1329.9 536.1,1330.4 542.2,1330.5 548.2,1330.9 572.1,1333.7 578.1,1334.6 584.0,1335.7 589.9,1337.1 607.5,1341.8 630.7,1348.7 654.1,1355.0 671.7,1359.2 724.9,1371.0 748.5,1376.7 760.2,1379.9 765.9,1381.7 777.3,1385.8 805.6,1396.5 817.0,1400.6 822.9,1402.2 828.7,1403.7 840.6,1406.1 852.5,1408.2 870.6,1410.4 882.6,1411.4 900.8,1412.6 931.0,1413.9 961.3,1414.4 985.5,1414.6" fill="none" stroke="#41FFBE" stroke-width="2.2" stroke-linejoin="round" stroke-linecap="butt" />
<path d="M94.0,1329.6 354.3,1329.8 542.0,1330.6 548.0,1331.1 559.9,1332.9 571.9,1334.5 577.8,1335.5 583.7,1336.7 595.5,1339.6 607.2,1342.7 630.5,1349.3 653.9,1355.4 671.6,1359.5 724.8,1371.1 748.4,1376.7 760.1,1379.8 771.6,1383.6 805.6,1396.4 817.0,1400.3 822.9,1401.9 828.7,1403.3 840.6,1405.7 852.5,1407.7 864.6,1409.1 876.6,1410.3 894.7,1411.5 912.9,1412.5 931.0,1413.1 961.3,1413.6 985.5,1413.8" fill="none" stroke="#52FFAD" stroke-width="2.2" stroke-linejoin="round" stroke-linecap="butt" />
<path d="M94.0,1329.7 354.2,1329.9 541.8,1330.6 547.8,1331.3 559.7,1333.5 571.6,1335.4 583.5,1337.7 595.2,1340.5 630.3,1350.0 653.7,1355.8 671.5,1359.8 724.7,1371.3 754.1,1378.3 760.0,1379.8 771.5,1383.5 788.6,1389.7 805.5,1396.2 817.0,1400.0 828.8,1402.9 840.6,1405.2 852.6,1407.1 864.6,1408.5 876.6,1409.7 894.8,1410.9 912.9,1411.7 931.0,1412.3 961.3,1412.7 985.5,1412.9" fill="none" stroke="#62FF9D" stroke-width="2.2" stroke-linejoin="round" stroke-linecap="butt" />
<path d="M94.0,1329.8 360.2,1330.0 541.7,1330.7 547.7,1331.5 559.5,1334.0 571.3,1336.2 583.2,1338.7 595.0,1341.4 630.1,1350.6 653.6,1356.3 724.6,1371.5 754.0,1378.3 759.9,1379.8 771.4,1383.4 788.5,1389.5 799.8,1393.9 811.2,1397.9 817.0,1399.7 822.9,1401.2 834.7,1403.7 846.6,1405.7 858.6,1407.3 876.7,1409.1 888.7,1409.9 912.9,1411.0 931.1,1411.5 985.5,1412.0" fill="none" stroke="#72FF8D" stroke-width="2.2" stroke-linejoin="round" stroke-linecap="butt" />
<path d="M94.0,1329.9 366.1,1330.1 487.1,1330.5 541.5,1330.9 547.5,1331.8 559.2,1334.6 588.8,1340.8 624.0,1349.8 653.4,1356.7 724.4,1371.7 753.9,1378.3 759.8,1379.8 771.4,1383.3 788.5,1389.3 799.7,1393.7 811.2,1397.6 817.0,1399.3 822.9,1400.8 834.7,1403.2 846.6,1405.2 858.6,1406.7 876.7,1408.4 888.8,1409.1 912.9,1410.1 931.1,1410.6 985.5,1411.1" fill="none" stroke="#83FF7C" stroke-width="2.2" stroke-linejoin="round" stroke-linecap="butt" />
<path d="M94.0,1330.0 402.3,1330.3 523.2,1330.8 541.3,1331.2 547.3,1332.2 559.1,1334.9 588.6,1341.2 623.8,1350.2 653.2,1357.0 724.2,1371.9 753.7,1378.4 765.4,1381.4 771.2,1383.3 788.3,1389.1 799.7,1393.3 811.2,1397.0 817.0,1398.6 822.9,1400.0 834.7,1402.3 846.7,1404.2 858.7,1405.6 876.7,1407.2 888.8,1407.9 913.0,1408.8 931.1,1409.3 985.5,1409.8" fill="none" stroke="#93FF6C" stroke-width="2.2" stroke-linejoin="round" stroke-linecap="butt" />
<path d="M94.0,1330.1 287.4,1330.2 432.4,1330.5 523.1,1330.9 535.1,1331.2 541.1,1331.6 547.1,1332.6 558.9,1335.3 588.4,1341.6 623.6,1350.6 653.0,1357.3 724.0,1372.0 753.5,1378.4 765.2,1381.4 771.0,1383.2 799.6,1392.8 811.1,1396.4 817.0,1397.9 828.8,1400.4 840.7,1402.3 852.7,1403.9 870.7,1405.6 882.8,1406.4 900.9,1407.2 925.1,1407.9 985.5,1408.5" fill="none" stroke="#A3FF5C" stroke-width="2.2" stroke-linejoin="round" stroke-linecap="butt" />
<path d="M94.0,1330.2 299.4,1330.3 462.5,1330.8 522.9,1331.0 528.9,1331.1 541.0,1332.0 546.9,1333.0 558.7,1335.7 588.2,1342.0 623.3,1350.9 652.8,1357.7 670.5,1361.4 723.8,1372.2 753.3,1378.5 765.0,1381.4 770.8,1383.1 805.3,1394.1 817.0,1397.2 828.8,1399.5 840.7,1401.4 852.7,1402.9 870.8,1404.5 882.8,1405.2 900.9,1405.9 925.1,1406.6 985.5,1407.2" fill="none" stroke="#B4FF4B" stroke-width="2.2" stroke-linejoin="round" stroke-linecap="butt" />
<path d="M94.0,1330.3 275.2,1330.4 414.0,1330.7 522.7,1331.1 528.8,1331.3 534.8,1331.7 540.8,1332.3 546.7,1333.4 558.5,1336.1 582.1,1341.1 593.9,1343.8 623.1,1351.3 658.5,1359.3 723.6,1372.4 753.1,1378.5 764.9,1381.4 799.5,1392.0 805.3,1393.6 817.0,1396.5 828.8,1398.7 840.8,1400.5 852.8,1401.9 870.8,1403.4 882.9,1404.1 925.1,1405.3 985.5,1405.9" fill="none" stroke="#C4FF3B" stroke-width="2.2" stroke-linejoin="round" stroke-linecap="butt" />
<path d="M94.0,1330.5 281.1,1330.5 432.0,1330.9 522.6,1331.3 528.6,1331.4 534.6,1331.9 540.6,1332.7 546.5,1333.8 558.3,1336.5 581.9,1341.4 593.7,1344.2 622.9,1351.7 652.3,1358.4 670.1,1362.1 723.4,1372.5 752.9,1378.6 764.7,1381.4 787.8,1388.3 805.2,1393.1 817.0,1395.8 828.9,1397.8 840.8,1399.5 852.8,1400.9 870.8,1402.2 882.9,1402.9 925.1,1404.0 985.5,1404.6" fill="none" stroke="#D5FF2A" stroke-width="2.2" stroke-linejoin="round" stroke-linecap="butt" />
<path d="M94.0,1330.6 365.5,1330.8 498.3,1331.3 522.4,1331.4 528.5,1331.6 534.5,1332.2 540.4,1333.0 581.7,1341.8 593.5,1344.5 622.7,1352.1 640.3,1356.1 658.0,1360.0 729.1,1373.9 758.6,1379.9 764.5,1381.3 781.9,1386.4 799.3,1391.1 811.1,1393.9 822.9,1396.1 834.8,1397.8 846.8,1399.3 858.8,1400.3 876.9,1401.5 895.0,1402.1 919.1,1402.6 985.5,1403.3" fill="none" stroke="#E5FF1A" stroke-width="2.2" stroke-linejoin="round" stroke-linecap="butt" />
<path d="M94.0,1330.7 371.5,1330.9 510.2,1331.4 522.3,1331.5 528.3,1331.7 534.3,1332.4 540.2,1333.4 557.9,1337.3 581.5,1342.2 593.3,1344.9 622.5,1352.5 640.1,1356.5 657.8,1360.3 728.9,1374.0 758.5,1379.9 764.3,1381.3 787.5,1387.8 799.3,1390.7 811.0,1393.2 822.9,1395.3 834.9,1397.0 846.9,1398.3 858.9,1399.3 876.9,1400.3 895.0,1400.9 919.2,1401.3 985.5,1402.0" fill="none" stroke="#F5FF0A" stroke-width="2.2" stroke-linejoin="round" stroke-linecap="butt" />
<path d="M94.0,1330.8 401.5,1331.1 504.1,1331.5 522.1,1331.7 528.2,1332.0 534.1,1332.8 540.1,1333.9 557.7,1337.8 581.4,1342.6 593.1,1345.3 622.3,1352.8 639.9,1356.8 657.6,1360.6 758.3,1380.0 764.2,1381.3 787.5,1387.7 805.1,1391.6 817.0,1393.8 834.9,1396.3 846.9,1397.6 858.9,1398.4 877.0,1399.4 913.1,1400.3 985.5,1401.0" fill="none" stroke="#FFF800" stroke-width="2.2" stroke-linejoin="round" stroke-linecap="butt" />
<path d="M94.0,1330.9 305.0,1331.0 467.8,1331.4 504.0,1331.6 522.0,1332.2 528.0,1332.6 534.0,1333.4 539.9,1334.4 557.6,1338.3 581.3,1343.1 593.0,1345.7 622.2,1353.1 651.7,1359.7 675.3,1364.4 758.2,1380.1 764.1,1381.4 787.4,1387.6 805.1,1391.4 817.0,1393.5 834.9,1395.9 846.9,1397.1 858.9,1398.0 877.0,1399.0 913.2,1399.8 985.5,1400.4" fill="none" stroke="#FFE800" stroke-width="2.2" stroke-linejoin="round" stroke-linecap="butt" />
<path d="M94.0,1331.0 311.0,1331.1 479.8,1331.5 503.9,1331.7 521.9,1332.6 527.9,1333.1 533.9,1333.9 575.2,1342.3 592.9,1346.1 622.2,1353.4 651.6,1360.0 675.2,1364.7 758.2,1380.2 764.1,1381.5 787.4,1387.4 805.1,1391.1 817.0,1393.2 834.9,1395.5 846.9,1396.7 858.9,1397.6 877.0,1398.5 913.2,1399.2 985.5,1399.9" fill="none" stroke="#FFD800" stroke-width="2.2" stroke-linejoin="round" stroke-linecap="butt" />
<path d="M94.0,1331.1 401.4,1331.4 497.8,1331.7 503.8,1331.8 509.9,1332.1 527.8,1333.7 539.7,1335.6 586.9,1345.2 598.7,1347.9 622.1,1353.7 657.4,1361.5 675.1,1365.0 758.1,1380.3 764.0,1381.6 787.4,1387.3 805.1,1390.9 817.0,1392.9 834.9,1395.1 846.9,1396.3 859.0,1397.1 877.0,1398.0 907.2,1398.6 985.5,1399.4" fill="none" stroke="#FFC700" stroke-width="2.2" stroke-linejoin="round" stroke-linecap="butt" />
<path d="M94.0,1331.2 419.4,1331.5 497.7,1331.8 503.8,1331.8 509.8,1332.3 527.7,1334.2 539.6,1336.2 586.8,1345.6 598.6,1348.3 622.0,1354.0 657.3,1361.9 681.0,1366.4 758.0,1380.4 763.9,1381.6 787.4,1387.2 805.1,1390.7 817.0,1392.6 835.0,1394.8 847.0,1395.9 859.0,1396.7 877.0,1397.5 907.2,1398.1 985.5,1398.8" fill="none" stroke="#FFB700" stroke-width="2.2" stroke-linejoin="round" stroke-linecap="butt" />
<path d="M94.0,1331.3 347.1,1331.5 503.7,1331.9 509.7,1332.4 527.6,1334.7 539.4,1336.8 586.7,1346.0 598.5,1348.7 633.7,1357.0 663.1,1363.3 734.2,1376.4 758.0,1380.5 763.9,1381.7 787.4,1387.1 805.1,1390.4 817.0,1392.3 835.0,1394.4 847.0,1395.5 859.0,1396.2 877.1,1397.1 907.2,1397.6 985.5,1398.3" fill="none" stroke="#FFA700" stroke-width="2.2" stroke-linejoin="round" stroke-linecap="butt" />
<path d="M94.0,1331.4 353.0,1331.6 503.6,1332.0 509.6,1332.6 533.4,1336.3 580.7,1345.3 598.4,1349.0 639.5,1358.7 663.0,1363.7 728.2,1375.6 757.9,1380.7 763.8,1381.8 781.4,1385.8 793.3,1388.1 805.1,1390.2 817.0,1392.0 835.0,1394.0 847.0,1395.1 859.0,1395.8 877.1,1396.6 901.2,1397.0 985.5,1397.7" fill="none" stroke="#FF9600" stroke-width="2.2" stroke-linejoin="round" stroke-linecap="butt" />
<path d="M94.0,1331.5 359.0,1331.7 497.5,1332.0 503.6,1332.1 509.5,1332.8 533.3,1336.9 586.5,1346.9 598.3,1349.4 645.3,1360.3 668.9,1365.1 734.1,1376.8 757.8,1380.8 763.8,1381.9 787.3,1386.9 811.1,1390.8 823.0,1392.4 841.0,1394.2 853.0,1395.0 871.1,1395.9 895.2,1396.5 985.5,1397.2" fill="none" stroke="#FF8600" stroke-width="2.2" stroke-linejoin="round" stroke-linecap="butt" />
<path d="M94.0,1331.6 431.2,1331.9 479.4,1332.0 503.5,1332.5 509.5,1333.2 533.2,1337.4 586.5,1347.3 598.2,1349.8 645.2,1360.5 668.8,1365.3 728.1,1376.0 763.7,1381.9 787.3,1386.8 811.1,1390.6 823.0,1392.0 841.0,1393.8 853.0,1394.6 871.1,1395.5 895.2,1396.0 985.5,1396.8" fill="none" stroke="#FF7600" stroke-width="2.2" stroke-linejoin="round" stroke-linecap="butt" />
<path d="M94.0,1331.7 310.8,1331.7 473.3,1332.0 485.4,1332.2 503.4,1333.0 509.4,1333.8 533.1,1338.0 586.4,1347.8 598.1,1350.3 621.6,1355.7 645.2,1360.8 668.8,1365.5 728.0,1376.2 763.7,1382.0 787.3,1386.7 811.1,1390.4 823.1,1391.8 841.0,1393.4 853.1,1394.3 877.1,1395.3 901.2,1395.7 985.5,1396.5" fill="none" stroke="#FF6500" stroke-width="2.2" stroke-linejoin="round" stroke-linecap="butt" />
<path d="M94.0,1331.7 310.7,1331.8 473.3,1332.1 485.3,1332.4 497.3,1333.1 503.3,1333.6 509.3,1334.4 533.0,1338.5 580.4,1347.2 592.2,1349.5 621.6,1356.0 645.1,1361.1 662.8,1364.6 680.6,1367.9 733.9,1377.4 763.7,1382.0 787.3,1386.6 811.1,1390.1 823.1,1391.5 841.1,1393.1 853.1,1393.9 877.1,1394.9 907.2,1395.4 985.5,1396.1" fill="none" stroke="#FF5500" stroke-width="2.2" stroke-linejoin="round" stroke-linecap="butt" />
<path d="M94.0,1331.8 419.1,1332.0 473.3,1332.2 485.3,1332.6 503.2,1334.1 509.2,1334.9 532.9,1339.0 586.2,1348.8 639.2,1360.1 674.6,1367.0 727.9,1376.5 763.6,1382.0 787.3,1386.5 811.1,1389.9 823.1,1391.2 841.1,1392.7 859.1,1393.8 877.2,1394.5 907.2,1395.1 985.5,1395.8" fill="none" stroke="#FF4500" stroke-width="2.2" stroke-linejoin="round" stroke-linecap="butt" />
<path d="M94.0,1331.8 437.1,1332.1 473.2,1332.2 479.2,1332.4 485.2,1332.8 497.2,1334.0 509.1,1335.5 532.8,1339.5 574.3,1347.0 592.0,1350.4 621.4,1356.8 650.9,1362.7 680.5,1368.3 722.0,1375.7 739.8,1378.6 763.6,1382.1 787.3,1386.3 811.1,1389.7 823.1,1390.9 841.1,1392.4 859.1,1393.4 877.2,1394.2 913.3,1394.8 985.5,1395.5" fill="none" stroke="#FF3400" stroke-width="2.2" stroke-linejoin="round" stroke-linecap="butt" />
<path d="M94.0,1331.9 352.8,1332.0 473.2,1332.3 479.2,1332.5 491.1,1333.6 503.0,1335.2 532.7,1340.1 586.0,1349.7 621.3,1357.1 639.0,1360.7 668.6,1366.3 698.2,1371.7 733.8,1377.9 757.6,1381.2 787.3,1386.2 805.2,1388.7 817.1,1390.1 835.1,1391.6 853.1,1392.7 877.2,1393.8 913.3,1394.5 985.5,1395.2" fill="none" stroke="#FF2400" stroke-width="2.2" stroke-linejoin="round" stroke-linecap="butt" />
<path d="M94.0,1331.9 358.8,1332.1 473.1,1332.3 479.1,1332.5 485.1,1333.1 491.1,1333.9 514.8,1337.6 538.6,1341.6 568.2,1346.9 591.8,1351.3 621.3,1357.5 639.0,1361.0 686.3,1369.8 721.9,1376.1 739.7,1378.9 763.6,1382.1 787.3,1386.1 805.2,1388.5 817.1,1389.8 835.1,1391.3 853.1,1392.4 877.2,1393.4 919.3,1394.2 985.5,1394.8" fill="none" stroke="#FF1400" stroke-width="2.2" stroke-linejoin="round" stroke-linecap="butt" />
<path d="M94.0,1332.0 364.8,1332.2 473.1,1332.4 479.1,1332.6 485.1,1333.3 491.0,1334.2 502.8,1336.3 532.5,1341.1 568.1,1347.4 591.7,1351.8 633.0,1360.1 692.2,1371.1 721.8,1376.3 739.7,1379.1 763.5,1382.2 781.3,1385.1 799.2,1387.6 817.1,1389.6 829.1,1390.5 847.2,1391.7 871.2,1392.8 913.3,1393.8 985.5,1394.5" fill="none" stroke="#FF0300" stroke-width="2.2" stroke-linejoin="round" stroke-linecap="butt" />
<path d="M94.0,1332.1 443.0,1332.4 478.9,1333.5 484.9,1334.1 490.9,1335.0 502.7,1337.1 538.4,1342.7 568.0,1347.7 591.7,1352.1 615.3,1357.0 633.0,1360.4 692.2,1371.2 721.8,1376.4 739.6,1379.2 763.5,1382.2 781.3,1385.1 799.2,1387.5 817.1,1389.4 829.1,1390.4 847.2,1391.5 871.2,1392.6 913.3,1393.6 985.5,1394.3" fill="none" stroke="#F20000" stroke-width="2.2" stroke-linejoin="round" stroke-linecap="butt" />
<path d="M94.0,1332.2 443.0,1332.5 448.9,1332.7 460.8,1333.7 478.8,1334.5 490.7,1336.0 532.3,1342.3 568.0,1348.0 585.7,1351.3 627.0,1359.5 698.1,1372.5 727.7,1377.6 739.6,1379.4 763.5,1382.3 781.3,1385.1 799.2,1387.5 817.1,1389.3 829.1,1390.3 847.2,1391.4 871.2,1392.5 913.3,1393.4 985.5,1394.1" fill="none" stroke="#E20000" stroke-width="2.2" stroke-linejoin="round" stroke-linecap="butt" />
<path d="M94.0,1332.3 436.9,1332.5 442.9,1332.5 448.9,1332.9 460.6,1334.5 478.6,1335.5 484.6,1336.2 532.2,1342.9 556.0,1346.4 579.7,1350.5 627.0,1359.7 721.7,1376.8 739.6,1379.5 763.4,1382.4 781.3,1385.1 799.2,1387.4 817.1,1389.2 829.1,1390.2 847.2,1391.2 871.2,1392.3 913.3,1393.2 985.5,1393.8" fill="none" stroke="#D10000" stroke-width="2.2" stroke-linejoin="round" stroke-linecap="butt" />
<path d="M94.0,1332.4 442.9,1332.6 448.9,1333.1 460.5,1335.2 478.5,1336.6 490.4,1337.9 538.1,1344.3 556.0,1346.8 573.8,1349.8 621.0,1358.8 698.0,1372.8 727.6,1377.9 739.5,1379.7 763.4,1382.5 787.2,1386.0 799.2,1387.4 817.1,1389.1 829.1,1390.0 853.2,1391.4 871.2,1392.2 907.3,1392.9 985.5,1393.6" fill="none" stroke="#C10000" stroke-width="2.2" stroke-linejoin="round" stroke-linecap="butt" />
<path d="M94.0,1332.5 442.9,1332.6 448.9,1333.2 460.4,1336.0 478.3,1337.6 490.3,1338.9 538.0,1344.8 561.8,1348.1 579.6,1351.2 621.0,1359.1 662.5,1366.4 698.0,1372.9 727.6,1378.1 739.5,1379.8 763.4,1382.6 793.2,1386.7 811.2,1388.5 829.1,1389.9 853.2,1391.3 871.2,1392.1 907.3,1392.7 985.5,1393.4" fill="none" stroke="#B10000" stroke-width="2.2" stroke-linejoin="round" stroke-linecap="butt" />
<path d="M94.0,1332.6 442.9,1332.7 448.9,1333.4 454.5,1335.2 460.3,1336.7 490.1,1339.9 532.0,1344.7 549.9,1346.8 561.8,1348.5 579.6,1351.5 615.0,1358.2 656.5,1365.5 697.9,1373.1 727.6,1378.2 739.5,1380.0 763.4,1382.7 793.2,1386.6 811.2,1388.4 829.1,1389.8 853.2,1391.2 871.2,1392.0 901.3,1392.5 985.5,1393.2" fill="none" stroke="#A00000" stroke-width="2.2" stroke-linejoin="round" stroke-linecap="butt" />
<path d="M94.0,1332.7 442.9,1332.8 448.8,1333.6 454.4,1335.7 460.1,1337.5 466.1,1338.3 537.8,1345.9 561.7,1348.8 573.6,1350.7 609.1,1357.4 656.5,1365.6 697.9,1373.2 727.5,1378.4 739.4,1380.1 763.4,1382.8 793.2,1386.6 811.2,1388.3 829.1,1389.7 853.2,1391.1 871.2,1391.8 895.3,1392.3 985.5,1393.0" fill="none" stroke="#900000" stroke-width="2.2" stroke-linejoin="round" stroke-linecap="butt" />
<path d="M94.0,1332.8 442.9,1332.8 448.8,1333.8 454.3,1336.2 460.0,1338.2 465.9,1339.2 477.9,1340.7 543.7,1347.0 561.7,1349.2 573.5,1351.1 609.0,1357.7 656.4,1365.8 697.9,1373.4 727.5,1378.6 739.4,1380.3 763.3,1382.9 793.2,1386.6 811.2,1388.2 829.1,1389.6 853.2,1390.9 871.2,1391.7 895.3,1392.1 985.5,1392.8" fill="none" stroke="#800000" stroke-width="2.2" stroke-linejoin="round" stroke-linecap="butt" />
<path d="M94.0,1323.6 680.1,1324.0 720.0,1324.8 730.9,1320.6 739.8,1328.2 751.1,1340.0 760.0,1351.8 767.9,1364.1 775.8,1383.9 787.4,1405.8 799.9,1421.0 810.5,1424.0 836.9,1425.7 879.8,1427.8 985.5,1429.1" fill="none" stroke="#000" stroke-width="7.8" stroke-linejoin="round" stroke-linecap="butt" />
</g>
<text transform="translate(86.25,1676.50) scale(1.0000,1)" font-size="31" fill="#262627" >0</text>
<text transform="translate(251.07,1676.50) scale(1.0000,1)" font-size="31" fill="#262627" >5</text>
<text transform="translate(407.91,1676.50) scale(1.0000,1)" font-size="31" fill="#262627" >10</text>
<text transform="translate(573.04,1676.50) scale(1.0000,1)" font-size="31" fill="#262627" >15</text>
<text transform="translate(738.79,1676.50) scale(1.0000,1)" font-size="31" fill="#262627" >20</text>
<text transform="translate(903.92,1676.50) scale(1.0000,1)" font-size="31" fill="#262627" >25</text>
<text transform="translate(72.66,1652.70) scale(1.0000,1)" font-size="31" fill="#262627" >0</text>
<text transform="translate(50.11,1610.50) scale(1.0000,1)" font-size="31" fill="#262627" >0.1</text>
<text transform="translate(49.95,1568.30) scale(1.0000,1)" font-size="31" fill="#262627" >0.2</text>
<text transform="translate(49.49,1526.10) scale(1.0000,1)" font-size="31" fill="#262627" >0.3</text>
<text transform="translate(48.71,1483.90) scale(1.0000,1)" font-size="31" fill="#262627" >0.4</text>
<text transform="translate(49.49,1441.70) scale(1.0000,1)" font-size="31" fill="#262627" >0.5</text>
<text transform="translate(49.18,1399.50) scale(1.0000,1)" font-size="31" fill="#262627" >0.6</text>
<text transform="translate(49.10,1357.30) scale(1.0000,1)" font-size="31" fill="#262627" >0.7</text>
<text transform="translate(49.41,1315.10) scale(1.0000,1)" font-size="31" fill="#262627" >0.8</text>
<text transform="translate(49.49,1272.90) scale(1.0000,1)" font-size="31" fill="#262627" >0.9</text>
<text transform="translate(73.36,1230.70) scale(1.0000,1)" font-size="31" fill="#262627" >1</text>
<text transform="translate(225.83,1715.20) scale(1.0213,1)" font-size="35.8" fill="#262626" >Simulation</text>
<text transform="translate(397.90,1715.20) scale(0.9821,1)" font-size="35.8" fill="#262626" >region</text>
<text transform="translate(499.43,1715.20) scale(1.0297,1)" font-size="35.8" fill="#262626" >(electrode</text>
<text transform="translate(660.40,1715.20) scale(0.9944,1)" font-size="35.8" fill="#262626" >width)</text>
<text transform="translate(795.98,1715.20) scale(1.0071,1)" font-size="35.8" fill="#262626" >mm</text>
<line x1="766.5" y1="1723.4" x2="779.5" y2="1690.0" stroke="#262626" stroke-width="1.5"/>
<text transform="translate(25.50,1632.52) rotate(-90) scale(1.0407,1)" font-size="35.8" fill="#262626">Lithiation</text>
<text transform="translate(25.50,1474.45) rotate(-90) scale(0.9946,1)" font-size="35.8" fill="#262626">degree</text>
<text transform="translate(25.50,1368.92) rotate(-90) scale(0.9383,1)" font-size="35.8" fill="#262626">Li</text>
<text transform="translate(25.50,1323.45) rotate(-90) scale(1.0149,1)" font-size="35.8" fill="#262626">C</text>
<text transform="translate(31.00,1338.19) rotate(-90) scale(1.0333,1)" font-size="25.0" fill="#262626">x</text>
<text transform="translate(31.20,1298.99) rotate(-90) scale(0.9357,1)" font-size="25.0" fill="#262626">6</text>
<line x1="0.6" y1="1259.2" x2="33.4" y2="1272.3" stroke="#262626" stroke-width="1.5"/>
<rect x="17" y="1236.7" width="2.1" height="8.9" fill="#262626"/>
<text transform="translate(110.69,1627.50) scale(0.9731,1)" font-size="35.8" fill="#000" >c)</text>
<text transform="translate(150.53,1627.50) scale(1.0213,1)" font-size="35.8" fill="#000" >Simulation</text>
<clipPath id="cd"><rect x="91.0" y="1759.1" width="895.0" height="422.2000000000003"/></clipPath>
<line x1="193.06" y1="1759.1" x2="193.06" y2="2181.3" stroke="#DFDFDF" stroke-width="2"/>
<line x1="292.11" y1="1759.1" x2="292.11" y2="2181.3" stroke="#DFDFDF" stroke-width="2"/>
<line x1="391.17" y1="1759.1" x2="391.17" y2="2181.3" stroke="#DFDFDF" stroke-width="2"/>
<line x1="490.22" y1="1759.1" x2="490.22" y2="2181.3" stroke="#DFDFDF" stroke-width="2"/>
<line x1="589.28" y1="1759.1" x2="589.28" y2="2181.3" stroke="#DFDFDF" stroke-width="2"/>
<line x1="688.33" y1="1759.1" x2="688.33" y2="2181.3" stroke="#DFDFDF" stroke-width="2"/>
<line x1="787.39" y1="1759.1" x2="787.39" y2="2181.3" stroke="#DFDFDF" stroke-width="2"/>
<line x1="886.44" y1="1759.1" x2="886.44" y2="2181.3" stroke="#DFDFDF" stroke-width="2"/>
<line x1="94.0" y1="2110.93" x2="985.5" y2="2110.93" stroke="#DFDFDF" stroke-width="2"/>
<line x1="94.0" y1="2040.57" x2="985.5" y2="2040.57" stroke="#DFDFDF" stroke-width="2"/>
<line x1="94.0" y1="1970.20" x2="985.5" y2="1970.20" stroke="#DFDFDF" stroke-width="2"/>
<line x1="94.0" y1="1899.83" x2="985.5" y2="1899.83" stroke="#DFDFDF" stroke-width="2"/>
<line x1="94.0" y1="1829.47" x2="985.5" y2="1829.47" stroke="#DFDFDF" stroke-width="2"/>
<path d="M94.00,2181.3 v-10 M94.00,1759.1 v10 M193.06,2181.3 v-10 M193.06,1759.1 v10 M292.11,2181.3 v-10 M292.11,1759.1 v10 M391.17,2181.3 v-10 M391.17,1759.1 v10 M490.22,2181.3 v-10 M490.22,1759.1 v10 M589.28,2181.3 v-10 M589.28,1759.1 v10 M688.33,2181.3 v-10 M688.33,1759.1 v10 M787.39,2181.3 v-10 M787.39,1759.1 v10 M886.44,2181.3 v-10 M886.44,1759.1 v10 M985.50,2181.3 v-10 M985.50,1759.1 v10 M94.0,2181.30 h10 M985.5,2181.30 h-10 M94.0,2110.93 h10 M985.5,2110.93 h-10 M94.0,2040.57 h10 M985.5,2040.57 h-10 M94.0,1970.20 h10 M985.5,1970.20 h-10 M94.0,1899.83 h10 M985.5,1899.83 h-10 M94.0,1829.47 h10 M985.5,1829.47 h-10 M94.0,1759.10 h10 M985.5,1759.10 h-10" stroke="#262626" stroke-width="2" fill="none"/>
<rect x="94.0" y="1759.1" width="891.5" height="422.2000000000003" fill="none" stroke="#262626" stroke-width="2"/>
<g clip-path="url(#cd)">
<path d="M94.0,2014.9 628.9,2014.9 638.8,2014.4 650.8,2012.8 655.3,2011.6 659.8,2010.0 668.5,2006.1 673.3,2003.6 677.8,2000.7 682.3,1997.3 686.8,1993.4 689.8,1990.4 694.3,1984.3 704.8,1967.0 721.4,1941.8 728.9,1930.9 746.9,1906.4 761.9,1883.2 766.4,1876.7 769.4,1872.6 772.4,1869.1 778.4,1862.9 784.4,1857.9 788.9,1855.0 793.4,1852.6 799.4,1850.2 805.4,1848.2 812.9,1846.1 821.9,1844.0 848.9,1838.1 877.4,1832.5 910.5,1826.7 930.0,1823.8 960.0,1820.7 973.5,1819.6 985.5,1818.9" fill="none" stroke="#0000B0" stroke-width="2.2" stroke-linejoin="round" stroke-linecap="butt" />
<path d="M94.0,2014.9 614.0,2014.9 623.8,2014.4 634.3,2013.1 638.8,2012.0 643.3,2010.4 649.3,2007.6 655.3,2004.5 658.3,2002.5 662.8,1999.0 673.5,1989.6 679.3,1983.9 685.3,1977.5 706.3,1954.2 731.9,1925.1 745.4,1910.5 757.4,1898.2 766.4,1889.5 781.4,1876.0 784.4,1873.8 785.9,1873.0 790.4,1871.5 796.4,1869.8 802.4,1868.5 809.9,1867.1 818.9,1865.8 848.9,1862.1 869.9,1859.7 893.9,1857.8 934.5,1855.2 961.5,1854.0 985.5,1853.4" fill="none" stroke="#0000C0" stroke-width="2.2" stroke-linejoin="round" stroke-linecap="butt" />
<path d="M94.0,2014.9 599.2,2014.9 608.8,2014.4 619.3,2013.1 623.8,2012.0 628.3,2010.4 634.3,2007.6 641.8,2003.8 646.3,2001.0 650.8,1997.8 664.3,1987.2 673.3,1979.2 692.8,1960.7 730.4,1924.1 737.9,1917.2 749.9,1906.6 764.9,1892.3 770.9,1887.1 775.4,1883.7 779.9,1880.8 784.4,1878.7 788.9,1877.3 796.4,1875.6 803.9,1874.1 811.4,1873.0 844.4,1869.1 868.4,1866.7 887.9,1865.3 934.5,1862.7 961.5,1861.6 985.5,1861.1" fill="none" stroke="#0000C8" stroke-width="2.2" stroke-linejoin="round" stroke-linecap="butt" />
<path d="M94.0,2014.9 584.8,2014.9 593.8,2014.4 604.3,2013.1 608.8,2012.1 613.3,2010.4 623.9,2005.4 628.3,2002.9 634.3,1998.8 648.7,1987.8 680.8,1965.3 689.8,1958.5 697.3,1952.3 706.3,1944.5 731.9,1921.7 739.4,1915.4 749.9,1907.0 766.4,1893.0 770.9,1889.5 775.4,1886.5 779.9,1884.1 782.9,1882.8 787.4,1881.5 805.4,1878.7 821.9,1876.8 839.9,1875.3 859.4,1874.0 928.5,1870.0 958.5,1868.7 985.5,1867.8" fill="none" stroke="#0000D0" stroke-width="2.2" stroke-linejoin="round" stroke-linecap="butt" />
<path d="M94.0,2014.9 580.0,2014.9 583.0,2014.8 589.0,2014.0 595.0,2012.9 604.0,2010.7 607.0,2009.8 613.0,2007.3 616.0,2005.8 622.0,2002.2 646.0,1986.7 655.0,1980.6 664.0,1974.2 691.0,1954.1 703.0,1944.5 727.0,1924.6 739.0,1915.2 748.0,1908.8 763.0,1897.6 769.0,1893.4 775.0,1889.7 781.0,1886.9 784.0,1885.9 787.0,1885.1 796.0,1883.7 805.0,1882.7 868.0,1877.7 889.0,1876.5 931.0,1874.5 961.0,1873.3 985.5,1872.7" fill="none" stroke="#0000E6" stroke-width="2.2" stroke-linejoin="round" stroke-linecap="butt" />
<path d="M94.0,2014.9 406.0,2014.9 496.0,2014.5 520.0,2013.9 547.0,2012.6 565.0,2011.1 583.0,2008.9 589.0,2007.7 595.0,2006.3 604.0,2003.5 610.0,2001.3 616.0,1998.5 622.0,1995.3 646.0,1981.7 664.0,1970.5 691.0,1952.5 703.0,1944.0 730.0,1924.4 751.0,1910.2 766.0,1899.6 772.0,1895.8 775.0,1894.1 781.0,1891.3 784.0,1890.3 787.0,1889.5 793.0,1888.5 808.0,1886.5 853.0,1882.6 874.0,1881.0 901.0,1879.6 937.0,1878.1 961.0,1877.4 985.5,1877.0" fill="none" stroke="#0006FF" stroke-width="2.2" stroke-linejoin="round" stroke-linecap="butt" />
<path d="M94.0,2014.9 397.0,2014.9 466.0,2014.4 493.0,2014.0 511.0,2013.4 538.0,2011.4 544.0,2010.8 553.0,2009.6 565.0,2007.5 577.0,2004.9 589.0,2001.8 598.0,1999.1 604.0,1996.9 613.0,1993.1 622.0,1988.9 640.0,1980.1 649.0,1975.5 661.0,1968.8 694.0,1949.2 730.0,1926.5 748.0,1915.5 769.0,1901.6 775.0,1898.2 778.0,1896.7 784.0,1894.4 787.0,1893.7 796.0,1892.0 811.0,1890.0 853.0,1886.1 874.0,1884.4 901.0,1883.1 937.0,1881.7 961.0,1881.1 985.5,1880.9" fill="none" stroke="#0026FF" stroke-width="2.2" stroke-linejoin="round" stroke-linecap="butt" />
<path d="M94.0,2014.9 352.0,2014.9 400.0,2014.7 433.0,2014.3 475.0,2013.5 502.0,2012.6 517.0,2011.7 532.0,2010.4 544.0,2009.3 553.0,2008.1 565.0,2006.0 577.0,2003.4 589.0,2000.5 598.0,1997.8 604.0,1995.6 613.0,1991.9 622.0,1987.7 640.0,1979.1 649.0,1974.5 661.0,1967.9 697.0,1947.0 730.0,1926.9 748.0,1916.1 766.0,1904.3 772.0,1900.7 778.0,1897.7 784.0,1895.4 787.0,1894.6 796.0,1892.9 811.0,1890.9 853.0,1886.8 874.0,1885.1 901.0,1883.7 937.0,1882.3 961.0,1881.7 985.5,1881.5" fill="none" stroke="#0046FF" stroke-width="2.2" stroke-linejoin="round" stroke-linecap="butt" />
<path d="M94.0,2014.9 346.0,2014.9 394.0,2014.5 418.0,2014.2 460.0,2013.2 499.0,2011.6 511.0,2010.8 526.0,2009.5 541.0,2008.0 553.0,2006.5 565.0,2004.5 577.0,2002.0 589.0,1999.2 598.0,1996.5 604.0,1994.4 613.0,1990.7 622.0,1986.6 640.0,1978.1 649.0,1973.6 661.0,1967.1 700.0,1944.9 745.0,1918.5 751.0,1914.8 766.0,1905.1 772.0,1901.6 778.0,1898.6 784.0,1896.3 787.0,1895.5 796.0,1893.8 811.0,1891.7 853.0,1887.5 874.0,1885.8 901.0,1884.4 937.0,1883.0 961.0,1882.3 985.5,1882.1" fill="none" stroke="#0066FF" stroke-width="2.2" stroke-linejoin="round" stroke-linecap="butt" />
<path d="M94.0,2014.9 346.0,2014.9 409.0,2014.1 454.0,2012.7 496.0,2010.7 508.0,2009.8 523.0,2008.4 541.0,2006.5 553.0,2004.9 565.0,2003.0 574.0,2001.2 583.0,1999.3 592.0,1997.1 598.0,1995.2 607.0,1991.9 616.0,1988.2 625.0,1984.1 646.0,1974.1 661.0,1966.3 700.0,1944.6 742.0,1920.8 748.0,1917.3 769.0,1904.1 775.0,1900.9 778.0,1899.5 784.0,1897.2 787.0,1896.4 796.0,1894.7 811.0,1892.6 853.0,1888.3 874.0,1886.4 898.0,1885.2 937.0,1883.6 961.0,1883.0 985.5,1882.7" fill="none" stroke="#0086FF" stroke-width="2.2" stroke-linejoin="round" stroke-linecap="butt" />
<path d="M94.0,2014.9 346.0,2014.9 403.0,2014.0 451.0,2012.3 493.0,2009.8 520.0,2007.4 541.0,2005.0 553.0,2003.4 565.0,2001.4 574.0,1999.8 583.0,1997.9 592.0,1995.7 598.0,1993.9 604.0,1991.8 613.0,1988.3 622.0,1984.3 643.0,1974.6 658.0,1967.0 742.0,1921.4 748.0,1917.9 766.0,1906.7 772.0,1903.3 778.0,1900.4 784.0,1898.1 787.0,1897.3 796.0,1895.6 811.0,1893.4 853.0,1889.0 874.0,1887.1 898.0,1885.8 937.0,1884.2 961.0,1883.6 985.5,1883.3" fill="none" stroke="#00A6FF" stroke-width="2.2" stroke-linejoin="round" stroke-linecap="butt" />
<path d="M94.0,2014.9 346.0,2014.9 367.0,2014.6 400.0,2013.9 421.0,2013.1 448.0,2011.9 469.0,2010.6 490.0,2009.0 505.0,2007.6 520.0,2006.0 556.0,2001.3 574.0,1998.4 583.0,1996.5 592.0,1994.4 598.0,1992.7 604.0,1990.6 613.0,1987.1 622.0,1983.2 643.0,1973.6 658.0,1966.2 685.0,1951.7 739.0,1923.6 748.0,1918.5 763.0,1909.2 772.0,1904.1 778.0,1901.3 784.0,1899.1 787.0,1898.3 796.0,1896.5 811.0,1894.3 853.0,1889.7 874.0,1887.8 898.0,1886.5 937.0,1884.9 961.0,1884.2 985.5,1884.0" fill="none" stroke="#00C6FF" stroke-width="2.2" stroke-linejoin="round" stroke-linecap="butt" />
<path d="M94.0,2014.9 346.0,2014.9 367.0,2014.6 400.0,2013.7 421.0,2012.8 448.0,2011.3 466.0,2010.0 487.0,2008.3 502.0,2006.8 517.0,2005.0 559.0,1999.3 577.0,1996.4 592.0,1993.1 598.0,1991.4 604.0,1989.3 613.0,1985.9 622.0,1982.0 643.0,1972.6 655.0,1966.8 685.0,1951.2 739.0,1924.2 748.0,1919.1 766.0,1908.2 772.0,1905.0 778.0,1902.2 784.0,1900.0 787.0,1899.2 796.0,1897.4 811.0,1895.1 853.0,1890.4 874.0,1888.5 898.0,1887.1 937.0,1885.5 961.0,1884.8 985.5,1884.6" fill="none" stroke="#00E5FF" stroke-width="2.2" stroke-linejoin="round" stroke-linecap="butt" />
<path d="M94.0,2014.9 346.0,2014.9 367.0,2014.5 397.0,2013.6 418.0,2012.7 442.0,2011.3 460.0,2010.0 478.0,2008.4 496.0,2006.5 511.0,2004.7 559.0,1998.1 577.0,1995.2 592.0,1992.1 598.0,1990.3 604.0,1988.3 610.0,1986.1 619.0,1982.4 640.0,1973.2 649.0,1969.0 688.0,1949.3 739.0,1924.6 748.0,1919.6 766.0,1908.9 772.0,1905.6 778.0,1902.9 781.0,1901.7 787.0,1899.9 799.0,1897.6 814.0,1895.4 856.0,1890.7 877.0,1888.8 904.0,1887.4 937.0,1886.0 961.0,1885.3 985.5,1885.1" fill="none" stroke="#00FFFF" stroke-width="2.2" stroke-linejoin="round" stroke-linecap="butt" />
<path d="M94.0,2014.9 331.0,2014.9 349.0,2014.8 364.0,2014.5 406.0,2012.9 445.0,2010.3 460.0,2009.0 478.0,2007.2 496.0,2005.1 511.0,2003.1 550.0,1996.9 574.0,1992.6 583.0,1990.6 592.0,1988.4 598.0,1986.7 607.0,1983.5 619.0,1978.8 646.0,1967.2 658.0,1961.5 688.0,1946.9 739.0,1923.6 748.0,1919.0 763.0,1910.7 772.0,1906.2 778.0,1903.6 781.0,1902.5 787.0,1900.9 799.0,1898.6 814.0,1896.5 853.0,1892.4 874.0,1890.6 901.0,1889.1 937.0,1887.6 961.0,1887.0 985.5,1886.7" fill="none" stroke="#17FFE8" stroke-width="2.2" stroke-linejoin="round" stroke-linecap="butt" />
<path d="M94.0,2014.9 325.0,2014.9 361.0,2014.5 400.0,2012.9 433.0,2010.6 448.0,2009.3 463.0,2007.8 496.0,2003.7 511.0,2001.4 526.0,1998.9 547.0,1995.0 562.0,1992.0 577.0,1988.7 589.0,1985.6 595.0,1983.9 604.0,1980.9 619.0,1975.1 646.0,1963.9 688.0,1944.5 742.0,1921.3 769.0,1908.0 778.0,1904.3 784.0,1902.5 796.0,1900.2 814.0,1897.7 847.0,1894.3 871.0,1892.3 889.0,1891.2 934.0,1889.4 961.0,1888.6 985.5,1888.3" fill="none" stroke="#2EFFD1" stroke-width="2.2" stroke-linejoin="round" stroke-linecap="butt" />
<path d="M94.0,2014.9 325.0,2014.9 358.0,2014.5 394.0,2012.9 421.0,2011.0 451.0,2008.2 481.0,2004.5 496.0,2002.3 511.0,1999.8 526.0,1997.0 544.0,1993.3 559.0,1989.9 574.0,1986.2 589.0,1982.1 598.0,1979.3 607.0,1976.1 616.0,1972.7 643.0,1961.8 685.0,1943.3 703.0,1935.9 742.0,1920.4 769.0,1908.4 778.0,1905.1 784.0,1903.4 796.0,1901.2 814.0,1898.8 844.0,1895.9 871.0,1893.8 892.0,1892.7 934.0,1891.0 961.0,1890.3 985.5,1890.0" fill="none" stroke="#44FFBB" stroke-width="2.2" stroke-linejoin="round" stroke-linecap="butt" />
<path d="M94.0,2014.9 325.0,2014.9 355.0,2014.5 379.0,2013.5 409.0,2011.6 442.0,2008.5 466.0,2005.5 484.0,2002.9 499.0,2000.4 514.0,1997.6 532.0,1993.8 547.0,1990.3 559.0,1987.2 574.0,1983.0 592.0,1977.5 610.0,1971.3 640.0,1959.7 652.0,1954.8 679.0,1943.3 697.0,1936.2 742.0,1919.6 769.0,1908.8 778.0,1905.8 784.0,1904.3 796.0,1902.2 814.0,1900.0 841.0,1897.5 868.0,1895.5 886.0,1894.5 931.0,1892.8 961.0,1891.9 985.5,1891.6" fill="none" stroke="#5BFFA4" stroke-width="2.2" stroke-linejoin="round" stroke-linecap="butt" />
<path d="M94.0,2014.9 322.0,2014.9 355.0,2014.5 376.0,2013.5 406.0,2011.5 430.0,2009.1 454.0,2006.2 469.0,2004.1 484.0,2001.6 499.0,1998.9 511.0,1996.5 526.0,1993.2 541.0,1989.5 550.0,1987.1 562.0,1983.6 592.0,1973.9 610.0,1967.6 643.0,1955.1 682.0,1939.5 700.0,1932.9 742.0,1918.7 766.0,1910.2 775.0,1907.4 784.0,1905.2 799.0,1902.8 817.0,1900.8 841.0,1898.8 865.0,1897.1 886.0,1896.1 931.0,1894.4 961.0,1893.6 985.5,1893.2" fill="none" stroke="#72FF8D" stroke-width="2.2" stroke-linejoin="round" stroke-linecap="butt" />
<path d="M94.0,2014.9 322.0,2014.9 352.0,2014.5 370.0,2013.7 400.0,2011.6 421.0,2009.5 448.0,2006.2 475.0,2002.1 490.0,1999.4 502.0,1997.0 526.0,1991.5 541.0,1987.6 550.0,1985.0 571.0,1978.3 607.0,1966.1 643.0,1953.1 679.0,1939.4 694.0,1934.2 715.0,1927.3 742.0,1918.8 766.0,1910.9 775.0,1908.3 781.0,1906.8 793.0,1904.8 811.0,1902.7 832.0,1900.9 859.0,1899.1 883.0,1897.9 928.0,1896.3 958.0,1895.5 985.5,1895.0" fill="none" stroke="#89FF76" stroke-width="2.2" stroke-linejoin="round" stroke-linecap="butt" />
<path d="M94.0,2014.9 307.0,2014.9 343.0,2014.6 364.0,2013.8 394.0,2011.7 415.0,2009.6 439.0,2006.7 451.0,2005.0 466.0,2002.6 481.0,2000.0 496.0,1997.1 520.0,1991.7 535.0,1987.8 547.0,1984.5 565.0,1979.0 607.0,1965.1 643.0,1952.8 676.0,1941.2 691.0,1936.2 712.0,1929.5 742.0,1920.3 766.0,1912.3 775.0,1909.6 781.0,1908.2 787.0,1907.1 793.0,1906.3 811.0,1904.3 832.0,1902.5 856.0,1901.0 883.0,1899.8 925.0,1898.3 958.0,1897.5 985.5,1897.0" fill="none" stroke="#9FFF60" stroke-width="2.2" stroke-linejoin="round" stroke-linecap="butt" />
<path d="M94.0,2014.9 304.0,2014.9 337.0,2014.6 358.0,2013.9 379.0,2012.5 403.0,2010.4 424.0,2007.9 442.0,2005.5 457.0,2003.2 472.0,2000.7 487.0,1997.8 499.0,1995.3 511.0,1992.6 541.0,1984.8 562.0,1978.5 685.0,1939.0 742.0,1921.7 769.0,1912.7 778.0,1910.2 784.0,1909.0 796.0,1907.3 814.0,1905.5 835.0,1904.0 859.0,1902.7 883.0,1901.7 928.0,1900.2 958.0,1899.5 985.5,1899.0" fill="none" stroke="#B6FF49" stroke-width="2.2" stroke-linejoin="round" stroke-linecap="butt" />
<path d="M94.0,2014.9 304.0,2014.9 334.0,2014.6 352.0,2014.0 370.0,2012.9 397.0,2010.6 415.0,2008.5 448.0,2003.8 475.0,1999.1 499.0,1994.2 511.0,1991.4 526.0,1987.5 550.0,1980.9 586.0,1969.6 631.0,1956.0 679.0,1941.7 739.0,1924.1 769.0,1914.1 778.0,1911.6 784.0,1910.3 796.0,1908.8 814.0,1907.1 832.0,1905.9 856.0,1904.6 883.0,1903.5 925.0,1902.3 958.0,1901.5 985.5,1901.0" fill="none" stroke="#CDFF32" stroke-width="2.2" stroke-linejoin="round" stroke-linecap="butt" />
<path d="M94.0,2014.9 304.0,2014.9 331.0,2014.6 346.0,2014.1 364.0,2013.1 391.0,2010.8 406.0,2009.2 421.0,2007.2 442.0,2004.0 466.0,1999.9 493.0,1994.5 514.0,1989.4 547.0,1980.3 586.0,1968.4 616.0,1959.7 643.0,1952.2 694.0,1938.3 733.0,1927.3 745.0,1923.7 769.0,1915.4 778.0,1912.9 784.0,1911.7 796.0,1910.2 811.0,1908.9 832.0,1907.6 856.0,1906.4 883.0,1905.4 925.0,1904.2 985.5,1903.1" fill="none" stroke="#E4FF1B" stroke-width="2.2" stroke-linejoin="round" stroke-linecap="butt" />
<path d="M94.0,2014.9 304.0,2014.9 331.0,2014.6 346.0,2014.0 361.0,2013.1 391.0,2010.4 403.0,2009.1 427.0,2005.6 460.0,2000.1 484.0,1995.3 505.0,1990.5 520.0,1986.5 544.0,1979.8 583.0,1968.0 604.0,1962.2 640.0,1952.7 688.0,1940.9 724.0,1931.2 742.0,1926.1 763.0,1918.8 772.0,1915.9 778.0,1914.3 784.0,1913.1 796.0,1911.7 811.0,1910.4 829.0,1909.4 853.0,1908.3 922.0,1906.3 985.5,1905.1" fill="none" stroke="#FAFF05" stroke-width="2.2" stroke-linejoin="round" stroke-linecap="butt" />
<path d="M94.0,2014.9 289.0,2014.9 322.0,2014.6 337.0,2014.2 352.0,2013.4 370.0,2011.9 397.0,2009.2 418.0,2006.3 451.0,2000.9 475.0,1996.4 499.0,1991.3 514.0,1987.5 541.0,1980.3 583.0,1968.3 604.0,1962.7 640.0,1953.8 688.0,1942.7 724.0,1933.6 742.0,1928.8 763.0,1922.0 772.0,1919.2 778.0,1917.8 784.0,1916.6 796.0,1915.3 811.0,1914.2 853.0,1912.1 880.0,1911.2 922.0,1910.1 985.5,1909.0" fill="none" stroke="#FFED00" stroke-width="2.2" stroke-linejoin="round" stroke-linecap="butt" />
<path d="M94.0,2014.9 286.0,2014.9 322.0,2014.5 337.0,2014.1 352.0,2013.1 367.0,2011.7 394.0,2008.9 415.0,2006.0 448.0,2000.7 472.0,1996.3 496.0,1991.4 514.0,1987.1 541.0,1980.2 580.0,1969.7 598.0,1965.2 637.0,1956.0 682.0,1946.2 709.0,1939.9 739.0,1932.5 769.0,1923.9 775.0,1922.4 781.0,1921.2 790.0,1920.1 808.0,1918.6 826.0,1917.6 853.0,1916.5 880.0,1915.6 922.0,1914.5 985.5,1913.4" fill="none" stroke="#FFD600" stroke-width="2.2" stroke-linejoin="round" stroke-linecap="butt" />
<path d="M94.0,2014.9 283.0,2014.9 307.0,2014.7 325.0,2014.4 337.0,2013.9 352.0,2012.8 367.0,2011.3 397.0,2007.9 418.0,2004.9 457.0,1998.4 490.0,1992.1 517.0,1985.9 547.0,1978.6 580.0,1970.3 601.0,1965.4 640.0,1956.8 682.0,1948.1 703.0,1943.6 742.0,1934.7 769.0,1927.7 781.0,1925.3 790.0,1924.2 808.0,1922.9 859.0,1920.6 925.0,1918.8 985.5,1917.8" fill="none" stroke="#FFBF00" stroke-width="2.2" stroke-linejoin="round" stroke-linecap="butt" />
<path d="M94.0,2014.9 298.0,2014.8 319.0,2014.4 331.0,2014.0 343.0,2013.2 355.0,2012.1 394.0,2007.6 409.0,2005.5 451.0,1998.7 481.0,1993.2 508.0,1987.6 580.0,1970.9 604.0,1965.7 640.0,1958.2 697.0,1947.1 742.0,1937.7 769.0,1931.5 781.0,1929.3 790.0,1928.4 808.0,1927.2 865.0,1924.7 931.0,1923.0 985.5,1922.2" fill="none" stroke="#FFA800" stroke-width="2.2" stroke-linejoin="round" stroke-linecap="butt" />
<path d="M94.0,2014.9 292.0,2014.8 328.0,2014.0 337.0,2013.5 349.0,2012.4 367.0,2010.4 406.0,2005.3 445.0,1998.9 472.0,1994.2 499.0,1989.0 574.0,1972.8 610.0,1965.4 643.0,1959.1 691.0,1950.5 742.0,1940.7 766.0,1935.8 778.0,1933.8 787.0,1932.8 805.0,1931.6 865.0,1929.0 931.0,1927.4 985.5,1926.6" fill="none" stroke="#FF9200" stroke-width="2.2" stroke-linejoin="round" stroke-linecap="butt" />
<path d="M94.0,2014.9 289.0,2014.9 325.0,2014.0 334.0,2013.5 343.0,2012.8 361.0,2010.7 403.0,2005.1 421.0,2002.3 460.0,1995.8 496.0,1989.2 568.0,1974.6 616.0,1965.5 646.0,1960.2 691.0,1952.7 763.0,1940.0 778.0,1937.8 787.0,1936.9 805.0,1935.8 871.0,1933.1 934.0,1931.7 985.5,1931.0" fill="none" stroke="#FF7B00" stroke-width="2.2" stroke-linejoin="round" stroke-linecap="butt" />
<path d="M94.0,2014.9 286.0,2014.9 319.0,2014.2 328.0,2013.8 337.0,2013.1 355.0,2011.1 400.0,2005.1 418.0,2002.4 460.0,1995.7 496.0,1989.6 577.0,1974.2 619.0,1966.7 643.0,1962.7 688.0,1955.7 727.0,1949.3 763.0,1943.6 775.0,1941.9 787.0,1940.7 802.0,1939.8 865.0,1937.5 931.0,1936.1 985.5,1935.4" fill="none" stroke="#FF6400" stroke-width="2.2" stroke-linejoin="round" stroke-linecap="butt" />
<path d="M94.0,2014.9 286.0,2014.8 316.0,2014.2 325.0,2013.8 334.0,2013.2 352.0,2011.2 403.0,2004.2 463.0,1995.3 502.0,1989.0 583.0,1974.5 622.0,1968.0 646.0,1964.3 688.0,1958.2 727.0,1952.3 763.0,1947.1 775.0,1945.6 787.0,1944.5 802.0,1943.8 865.0,1941.7 931.0,1940.5 985.5,1939.9" fill="none" stroke="#FF4D00" stroke-width="2.2" stroke-linejoin="round" stroke-linecap="butt" />
<path d="M94.0,2014.9 280.0,2014.9 313.0,2014.3 328.0,2013.5 340.0,2012.4 355.0,2010.5 382.0,2006.6 412.0,2002.6 481.0,1992.6 526.0,1985.5 589.0,1974.9 634.0,1968.0 727.0,1955.3 772.0,1949.6 784.0,1948.5 799.0,1947.8 859.0,1946.1 925.0,1944.9 985.5,1944.4" fill="none" stroke="#FF3700" stroke-width="2.2" stroke-linejoin="round" stroke-linecap="butt" />
<path d="M94.0,2014.9 280.0,2014.9 310.0,2014.3 325.0,2013.6 337.0,2012.5 349.0,2011.0 385.0,2005.8 493.0,1991.2 541.0,1984.1 589.0,1976.3 631.0,1970.3 727.0,1958.3 769.0,1953.5 781.0,1952.5 793.0,1951.9 853.0,1950.4 919.0,1949.4 985.5,1948.8" fill="none" stroke="#FF2000" stroke-width="2.2" stroke-linejoin="round" stroke-linecap="butt" />
<path d="M94.0,2014.9 277.0,2014.9 304.0,2014.4 322.0,2013.7 331.0,2012.9 343.0,2011.5 388.0,2004.9 523.0,1987.6 547.0,1984.2 586.0,1978.2 625.0,1972.9 649.0,1970.0 724.0,1961.6 763.0,1957.7 784.0,1956.1 817.0,1955.2 883.0,1954.1 985.5,1953.3" fill="none" stroke="#FF0900" stroke-width="2.2" stroke-linejoin="round" stroke-linecap="butt" />
<path d="M94.0,2014.9 274.0,2014.9 298.0,2014.5 319.0,2013.8 328.0,2013.1 340.0,2011.8 388.0,2005.0 439.0,1998.6 529.0,1987.8 547.0,1985.4 586.0,1979.6 622.0,1975.1 649.0,1972.0 718.0,1965.0 760.0,1961.2 772.0,1960.3 784.0,1959.6 814.0,1958.8 883.0,1957.8 985.5,1957.1" fill="none" stroke="#F10000" stroke-width="2.2" stroke-linejoin="round" stroke-linecap="butt" />
<path d="M94.0,2014.9 274.0,2014.9 301.0,2014.4 319.0,2013.7 328.0,2013.1 340.0,2011.8 388.0,2005.4 526.0,1989.2 547.0,1986.5 586.0,1981.1 616.0,1977.5 640.0,1975.0 667.0,1972.3 721.0,1967.4 757.0,1964.5 781.0,1962.9 814.0,1962.1 883.0,1961.1 985.5,1960.5" fill="none" stroke="#DB0000" stroke-width="2.2" stroke-linejoin="round" stroke-linecap="butt" />
<path d="M94.0,2014.9 271.0,2014.9 298.0,2014.4 319.0,2013.7 331.0,2012.7 343.0,2011.5 388.0,2005.8 526.0,1990.3 547.0,1987.7 583.0,1983.0 607.0,1980.2 631.0,1977.8 658.0,1975.3 724.0,1969.9 772.0,1966.5 784.0,1966.0 796.0,1965.6 874.0,1964.5 985.5,1963.9" fill="none" stroke="#C40000" stroke-width="2.2" stroke-linejoin="round" stroke-linecap="butt" />
<path d="M94.0,2014.9 268.0,2014.9 292.0,2014.5 316.0,2013.7 331.0,2012.7 346.0,2011.2 385.0,2006.6 532.0,1990.6 580.0,1984.8 598.0,1982.8 646.0,1978.4 697.0,1974.4 766.0,1970.0 790.0,1969.0 820.0,1968.5 871.0,1967.9 985.5,1967.3" fill="none" stroke="#AD0000" stroke-width="2.2" stroke-linejoin="round" stroke-linecap="butt" />
<path d="M94.0,2014.9 268.0,2014.9 289.0,2014.6 313.0,2013.8 328.0,2012.9 346.0,2011.2 385.0,2007.0 532.0,1991.7 592.0,1985.0 634.0,1981.3 682.0,1977.8 766.0,1973.1 787.0,1972.3 817.0,1971.7 865.0,1971.2 985.5,1970.7" fill="none" stroke="#960000" stroke-width="2.2" stroke-linejoin="round" stroke-linecap="butt" />
<path d="M94.0,2014.9 265.0,2014.9 286.0,2014.6 310.0,2013.9 328.0,2012.8 349.0,2011.0 532.0,1992.8 589.0,1986.8 625.0,1983.9 676.0,1980.4 697.0,1979.3 769.0,1976.1 790.0,1975.4 862.0,1974.6 985.5,1974.1" fill="none" stroke="#800000" stroke-width="2.2" stroke-linejoin="round" stroke-linecap="butt" />
<path d="M94.0,2014.9 491.7,2014.9 500.7,2014.7 512.7,2014.0 518.7,2013.6 524.7,2012.8 539.8,2010.0 553.3,2006.3 560.8,2003.9 568.3,2001.1 577.3,1997.6 583.3,1995.0 647.8,1964.4 749.9,1915.2 758.9,1910.5 767.9,1905.3 776.9,1899.7 787.4,1892.8 820.4,1889.6 853.4,1887.1 922.5,1883.0 985.5,1879.8" fill="none" stroke="#000" stroke-width="7.8" stroke-linejoin="round" stroke-linecap="butt" />
</g>
<text transform="translate(77.72,2213.10) scale(1.0000,1)" font-size="31" fill="#262627" >18</text>
<text transform="translate(176.82,2213.10) scale(1.0000,1)" font-size="31" fill="#262627" >19</text>
<text transform="translate(276.53,2213.10) scale(1.0000,1)" font-size="31" fill="#262627" >20</text>
<text transform="translate(375.94,2213.10) scale(1.0000,1)" font-size="31" fill="#262627" >21</text>
<text transform="translate(474.92,2213.10) scale(1.0000,1)" font-size="31" fill="#262627" >22</text>
<text transform="translate(573.74,2213.10) scale(1.0000,1)" font-size="31" fill="#262627" >23</text>
<text transform="translate(672.41,2213.10) scale(1.0000,1)" font-size="31" fill="#262627" >24</text>
<text transform="translate(771.85,2213.10) scale(1.0000,1)" font-size="31" fill="#262627" >25</text>
<text transform="translate(870.75,2213.10) scale(1.0000,1)" font-size="31" fill="#262627" >26</text>
<text transform="translate(969.77,2213.10) scale(1.0000,1)" font-size="31" fill="#262627" >27</text>
<text transform="translate(57.16,2189.30) scale(1.0000,1)" font-size="31" fill="#262627" >40</text>
<text transform="translate(57.16,2118.93) scale(1.0000,1)" font-size="31" fill="#262627" >60</text>
<text transform="translate(57.16,2048.57) scale(1.0000,1)" font-size="31" fill="#262627" >80</text>
<text transform="translate(41.66,1978.20) scale(1.0000,1)" font-size="31" fill="#262627" >100</text>
<text transform="translate(41.66,1907.83) scale(1.0000,1)" font-size="31" fill="#262627" >120</text>
<text transform="translate(41.66,1837.47) scale(1.0000,1)" font-size="31" fill="#262627" >140</text>
<text transform="translate(41.66,1767.10) scale(1.0000,1)" font-size="31" fill="#262627" >160</text>
<text transform="translate(225.83,2251.60) scale(1.0213,1)" font-size="35.8" fill="#262626" >Simulation</text>
<text transform="translate(397.90,2251.60) scale(0.9821,1)" font-size="35.8" fill="#262626" >region</text>
<text transform="translate(499.43,2251.60) scale(1.0297,1)" font-size="35.8" fill="#262626" >(electrode</text>
<text transform="translate(660.40,2251.60) scale(0.9944,1)" font-size="35.8" fill="#262626" >width)</text>
<text transform="translate(795.98,2251.60) scale(1.0071,1)" font-size="35.8" fill="#262626" >mm</text>
<line x1="766.5" y1="2259.7999999999997" x2="779.5" y2="2226.4" stroke="#262626" stroke-width="1.5"/>
<text transform="translate(27.20,2193.56) rotate(-90) scale(1.0076,1)" font-size="35.8" fill="#262626">Anode</text>
<text transform="translate(27.20,2086.93) rotate(-90) scale(0.9981,1)" font-size="35.8" fill="#262626">surface</text>
<text transform="translate(27.20,1971.76) rotate(-90) scale(1.0520,1)" font-size="35.8" fill="#262626">potential</text>
<text transform="translate(27.20,1800.42) rotate(-90) scale(0.9993,1)" font-size="35.8" fill="#262626">mV</text>
<line x1="1.7" y1="1814.3" x2="35.2" y2="1826.3" stroke="#262626" stroke-width="1.5"/>
<text transform="translate(111.13,2165.00) scale(1.0914,1)" font-size="35.8" fill="#000" >d)</text>
<text transform="translate(153.54,2165.00) scale(1.0162,1)" font-size="35.8" fill="#000" >Simulation</text>
<text transform="translate(647.70,1277.00) scale(1.0073,1)" font-size="29.5" fill="#000" >10</text>
<text transform="translate(686.75,1277.00) scale(1.1998,1)" font-size="29.5" fill="#000" >h</text>
<text transform="translate(715.57,1277.00) scale(1.1191,1)" font-size="29.5" fill="#000" >to</text>
<text transform="translate(751.15,1277.00) scale(1.0253,1)" font-size="29.5" fill="#000" >10,000</text>
<text transform="translate(843.19,1277.00) scale(1.0649,1)" font-size="29.5" fill="#000" >h</text>
<text transform="translate(920.06,1265.00) scale(1.0056,1)" font-size="35.8" fill="#000" >OH</text>
<text transform="translate(691.25,1568.20) scale(1.0432,1)" font-size="29.5" fill="#008030" >Near</text>
<text transform="translate(762.35,1568.20) scale(1.0571,1)" font-size="29.5" fill="#008030" >edge</text>
<line x1="886.44" y1="1644.7" x2="886.44" y2="1222.7" stroke="#52A46E" stroke-width="2.2" stroke-dasharray="33.6 13.3 8 13.2"/>
<line x1="919.46" y1="1644.7" x2="919.46" y2="1222.7" stroke="#4A4A4A" stroke-width="2.2" stroke-dasharray="33.6 13.3 8 13.2"/>
<path d="M622.00,1392.80 L636.42,1368.42 L637.60,1380.29 L648.93,1384.02 Z" fill="#000" stroke="#000" stroke-width="1" stroke-linejoin="miter"/>
<path d="M753.8,1287.1 637.6,1380.3" fill="none" stroke="#000" stroke-width="3.6" stroke-linejoin="round" stroke-linecap="butt" />
<path d="M952.60,1349.90 L962.60,1376.40 L952.60,1369.90 L942.60,1376.40 Z" fill="#000" stroke="#000" stroke-width="1" stroke-linejoin="miter"/>
<path d="M952.6,1603.0 952.6,1369.9" fill="none" stroke="#000" stroke-width="3.6" stroke-linejoin="round" stroke-linecap="butt" />
<path d="M887.50,1561.00 L861.00,1571.00 L867.50,1561.00 L861.00,1551.00 Z" fill="#008030" stroke="#008030" stroke-width="1" stroke-linejoin="miter"/>
<path d="M821.0,1561.0 867.5,1561.0" fill="none" stroke="#008030" stroke-width="3.6" stroke-linejoin="round" stroke-linecap="butt" />
<text transform="translate(737.10,2031.30) scale(1.0073,1)" font-size="29.5" fill="#000" >10</text>
<text transform="translate(776.15,2031.30) scale(1.1998,1)" font-size="29.5" fill="#000" >h</text>
<text transform="translate(804.97,2031.30) scale(1.1191,1)" font-size="29.5" fill="#000" >to</text>
<text transform="translate(840.55,2031.30) scale(1.0253,1)" font-size="29.5" fill="#000" >10,000</text>
<text transform="translate(932.59,2031.30) scale(1.0649,1)" font-size="29.5" fill="#000" >h</text>
<text transform="translate(920.06,1799.00) scale(1.0056,1)" font-size="35.8" fill="#000" >OH</text>
<text transform="translate(509.15,1837.00) scale(1.0485,1)" font-size="29.5" fill="#008030" >Near</text>
<text transform="translate(580.77,1837.00) scale(1.0459,1)" font-size="29.5" fill="#008030" >edge</text>
<line x1="688.33" y1="2181.3" x2="688.33" y2="1759.1" stroke="#52A46E" stroke-width="2.2" stroke-dasharray="33.6 13.3 8 13.2"/>
<line x1="787.39" y1="2181.3" x2="787.39" y2="1759.1" stroke="#4A4A4A" stroke-width="2.2" stroke-dasharray="33.6 13.3 8 13.2"/>
<path d="M489.50,1953.50 L517.72,1951.08 L508.75,1958.93 L512.29,1970.32 Z" fill="#000" stroke="#000" stroke-width="1" stroke-linejoin="miter"/>
<path d="M735.0,2022.8 508.7,1958.9" fill="none" stroke="#000" stroke-width="3.6" stroke-linejoin="round" stroke-linecap="butt" />
<path d="M886.50,1990.00 L876.50,1963.50 L886.50,1970.00 L896.50,1963.50 Z" fill="#000" stroke="#000" stroke-width="1" stroke-linejoin="miter"/>
<path d="M886.5,1813.0 886.5,1970.0" fill="none" stroke="#000" stroke-width="3.6" stroke-linejoin="round" stroke-linecap="butt" />
<path d="M689.00,1830.00 L662.50,1840.00 L669.00,1830.00 L662.50,1820.00 Z" fill="#008030" stroke="#008030" stroke-width="1" stroke-linejoin="miter"/>
<path d="M639.0,1830.0 669.0,1830.0" fill="none" stroke="#008030" stroke-width="3.6" stroke-linejoin="round" stroke-linecap="butt" />
</svg></body></html>
